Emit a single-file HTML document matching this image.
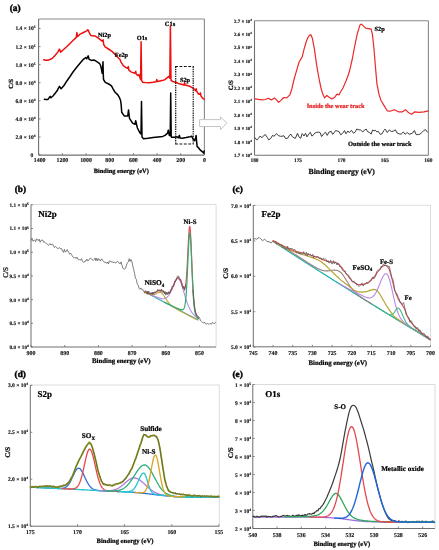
<!DOCTYPE html>
<html><head><meta charset="utf-8"><title>XPS spectra</title>
<style>
html,body{margin:0;padding:0;background:#fff;width:439px;height:550px;overflow:hidden}
svg{display:block}
text{font-family:"Liberation Serif","Times New Roman",serif;text-rendering:geometricPrecision}
</style></head><body>
<svg width="439" height="550" viewBox="0 0 439 550">
<rect width="439" height="550" fill="#fff"/>
<text x="9.7" y="11.3" font-size="9.4" font-weight="bold" text-anchor="start" fill="#000" stroke="#000" stroke-width="0.45">(a)</text>
<line x1="38.6" y1="19" x2="204.4" y2="19" stroke="#8a8a8a" stroke-width="1.1"/>
<line x1="204.4" y1="19" x2="204.4" y2="155.1" stroke="#8a8a8a" stroke-width="1.1"/>
<line x1="38.6" y1="19" x2="38.6" y2="155.1" stroke="#707070" stroke-width="1.1"/>
<line x1="38.6" y1="155.1" x2="204.4" y2="155.1" stroke="#707070" stroke-width="1.1"/>
<line x1="38.6" y1="155.1" x2="40.6" y2="155.1" stroke="#6e6e6e" stroke-width="0.8"/>
<text x="33.3" y="157.1" font-size="5.5" font-weight="bold" text-anchor="end" fill="#1a1a1a" stroke="#1a1a1a" stroke-width="0.16">0</text>
<line x1="38.6" y1="137" x2="40.6" y2="137" stroke="#6e6e6e" stroke-width="0.8"/>
<text x="35.5" y="139" font-size="5.5" font-weight="bold" text-anchor="end" fill="#1a1a1a" stroke="#1a1a1a" stroke-width="0.16">2.0 × 10<tspan font-size="3.6" dy="-2">4</tspan></text>
<line x1="38.6" y1="118.9" x2="40.6" y2="118.9" stroke="#6e6e6e" stroke-width="0.8"/>
<text x="35.5" y="120.9" font-size="5.5" font-weight="bold" text-anchor="end" fill="#1a1a1a" stroke="#1a1a1a" stroke-width="0.16">4.0 × 10<tspan font-size="3.6" dy="-2">4</tspan></text>
<line x1="38.6" y1="100.8" x2="40.6" y2="100.8" stroke="#6e6e6e" stroke-width="0.8"/>
<text x="35.5" y="102.8" font-size="5.5" font-weight="bold" text-anchor="end" fill="#1a1a1a" stroke="#1a1a1a" stroke-width="0.16">6.0 × 10<tspan font-size="3.6" dy="-2">4</tspan></text>
<line x1="38.6" y1="82.7" x2="40.6" y2="82.7" stroke="#6e6e6e" stroke-width="0.8"/>
<text x="35.5" y="84.7" font-size="5.5" font-weight="bold" text-anchor="end" fill="#1a1a1a" stroke="#1a1a1a" stroke-width="0.16">8.0 × 10<tspan font-size="3.6" dy="-2">4</tspan></text>
<line x1="38.6" y1="64.6" x2="40.6" y2="64.6" stroke="#6e6e6e" stroke-width="0.8"/>
<text x="35.5" y="66.6" font-size="5.5" font-weight="bold" text-anchor="end" fill="#1a1a1a" stroke="#1a1a1a" stroke-width="0.16">1.0 × 10<tspan font-size="3.6" dy="-2">5</tspan></text>
<line x1="38.6" y1="46.6" x2="40.6" y2="46.6" stroke="#6e6e6e" stroke-width="0.8"/>
<text x="35.5" y="48.5" font-size="5.5" font-weight="bold" text-anchor="end" fill="#1a1a1a" stroke="#1a1a1a" stroke-width="0.16">1.2 × 10<tspan font-size="3.6" dy="-2">5</tspan></text>
<line x1="38.6" y1="28.5" x2="40.6" y2="28.5" stroke="#6e6e6e" stroke-width="0.8"/>
<text x="35.5" y="30.4" font-size="5.5" font-weight="bold" text-anchor="end" fill="#1a1a1a" stroke="#1a1a1a" stroke-width="0.16">1.4 × 10<tspan font-size="3.6" dy="-2">5</tspan></text>
<line x1="204.4" y1="155.1" x2="204.4" y2="153.1" stroke="#6e6e6e" stroke-width="0.8"/>
<text x="204.4" y="162.2" font-size="5.85" font-weight="bold" text-anchor="middle" fill="#1a1a1a" stroke="#1a1a1a" stroke-width="0.16">0</text>
<line x1="180.7" y1="155.1" x2="180.7" y2="153.1" stroke="#6e6e6e" stroke-width="0.8"/>
<text x="180.7" y="162.2" font-size="5.85" font-weight="bold" text-anchor="middle" fill="#1a1a1a" stroke="#1a1a1a" stroke-width="0.16">200</text>
<line x1="157.1" y1="155.1" x2="157.1" y2="153.1" stroke="#6e6e6e" stroke-width="0.8"/>
<text x="157.1" y="162.2" font-size="5.85" font-weight="bold" text-anchor="middle" fill="#1a1a1a" stroke="#1a1a1a" stroke-width="0.16">400</text>
<line x1="133.4" y1="155.1" x2="133.4" y2="153.1" stroke="#6e6e6e" stroke-width="0.8"/>
<text x="133.4" y="162.2" font-size="5.85" font-weight="bold" text-anchor="middle" fill="#1a1a1a" stroke="#1a1a1a" stroke-width="0.16">600</text>
<line x1="109.7" y1="155.1" x2="109.7" y2="153.1" stroke="#6e6e6e" stroke-width="0.8"/>
<text x="109.7" y="162.2" font-size="5.85" font-weight="bold" text-anchor="middle" fill="#1a1a1a" stroke="#1a1a1a" stroke-width="0.16">800</text>
<line x1="86" y1="155.1" x2="86" y2="153.1" stroke="#6e6e6e" stroke-width="0.8"/>
<text x="86" y="162.2" font-size="5.85" font-weight="bold" text-anchor="middle" fill="#1a1a1a" stroke="#1a1a1a" stroke-width="0.16">1000</text>
<line x1="62.4" y1="155.1" x2="62.4" y2="153.1" stroke="#6e6e6e" stroke-width="0.8"/>
<text x="62.4" y="162.2" font-size="5.85" font-weight="bold" text-anchor="middle" fill="#1a1a1a" stroke="#1a1a1a" stroke-width="0.16">1200</text>
<line x1="38.7" y1="155.1" x2="38.7" y2="153.1" stroke="#6e6e6e" stroke-width="0.8"/>
<text x="39.7" y="162.2" font-size="5.85" font-weight="bold" text-anchor="middle" fill="#1a1a1a" stroke="#1a1a1a" stroke-width="0.16">1400</text>
<text x="121.3" y="173.3" font-size="6.4" font-weight="bold" text-anchor="middle" fill="#000" stroke="#000" stroke-width="0.22">Binding energy (eV)</text>
<text x="0" y="0" font-size="6.3" font-weight="bold" text-anchor="middle" fill="#000" stroke="#000" stroke-width="0.22" transform="translate(12.6 83.8) rotate(-90)">C/S</text>
<polyline points="44.3,99.2 46,99.6 47.8,99.6 49.5,97.2 50.2,96.4 50.9,97.8 53,96 55,93.5 57.1,90.8 58.6,87.8 59.5,86.3 61.1,88.8 64,85.5 66.7,81.2 70,76.5 73,72 76.3,67.8 80,63.3 83.4,59.3 85.7,57.6 86.8,58.7 88.2,55.9 89.1,59.3 91.4,60.4 93.7,59.9 95.9,61 98.2,62.7 99.6,63.5 100.7,65.8 101.6,69.8 102.1,73.2 102.6,68 103,61.8 103.2,72.1 103.5,79.5 105.3,82.3 108.7,84 111.5,85.8 113.2,89.2 114.9,92 117.8,94.9 119.5,97.7 120.6,100.6 121.2,105 121.7,112.3 124.2,115.9 127.8,115.9 128.5,109.9 129.5,118.3 132.6,123.1 135,124.3 135.7,120.7 137.4,128 139.9,132.8 141,134 141.5,101.4 142,137 143.5,138.8 148,138.3 153.1,137.6 158,137 162.8,136.4 165,135.4 167.4,133.4 168.3,130.1 169.3,135.4 170.2,135.6 170.7,93 171.2,136.5 171.7,137.3 174.6,137.3 177,136.8 178.4,137.8 179.4,135.4 180,138 182.2,138.2 186.1,137.6 189.9,136.8 191.8,136.3 192.8,138.7 194.7,140.6 195.6,138 196.1,135.4 196.6,141.6 197.1,146.4 198.5,147.8 200.4,150.2 202.8,152.1 203.8,153.1 204.2,151" fill="none" stroke="#000" stroke-width="1.5" stroke-linejoin="round" stroke-linecap="round"/>
<polyline points="43.7,59.8 45.5,60.3 47.6,60.2 50,59.5 52.4,58.3 55,55.5 58.1,51.6 59.4,49.1 60.6,52.1 63,50 66.7,46.8 70,43.5 73,40.5 76.3,37.4 76.9,32.6 77.4,36.6 80,34.2 83.4,32.5 86.8,30.8 87.7,29.7 88.5,30.8 89.7,33.7 90.8,35.4 94.8,35.9 97.7,37.7 99.9,39.4 102.2,41.1 103.1,39.9 103.7,44.5 105.1,46.8 108.5,49 111.9,51.3 114.2,53.6 116.4,55.9 118.7,58.2 119.9,59.3 121,62.1 123.3,65.6 125.6,67.3 127.5,68.3 128.3,66.6 128.9,70.2 131.4,72.1 134.9,73.2 135.7,71.3 136.3,74.4 138.3,75.5 139,74.5 140,77.8 140.6,79.5 141.1,41.7 141.6,80.6 142.8,82.3 145,82.5 149.4,82.7 153,82.3 156.2,81.7 156.8,79.5 157.4,81.6 160,81 163.1,80.3 165,79.6 167.9,77.2 168.8,76.3 169.8,78.2 170.4,25.9 171,80.4 172.7,81.5 175.5,82.2 178.4,83.4 182.2,84.4 184.1,84.9 184.6,82.5 185.1,85.1 188,85.8 190.8,86.8 193.7,88.7 195.6,90.6 196.1,88.7 196.6,91.1 198.5,94 199.9,94.4 200.4,93 200.9,95.9 202.3,97.8 204.2,99.2" fill="none" stroke="#ee1010" stroke-width="1.5" stroke-linejoin="round" stroke-linecap="round"/>
<line x1="175.1" y1="66.5" x2="193.8" y2="66.5" stroke="#111" stroke-width="1.2" stroke-dasharray="2.8 1.6"/>
<line x1="175.1" y1="144" x2="193.8" y2="144" stroke="#111" stroke-width="1.2" stroke-dasharray="2.8 1.6"/>
<line x1="175.7" y1="66.5" x2="175.7" y2="144" stroke="#111" stroke-width="1.2" stroke-dasharray="1.4 0.9"/>
<line x1="193.2" y1="66.5" x2="193.2" y2="144" stroke="#111" stroke-width="1.2" stroke-dasharray="1.4 0.9"/>
<text x="98" y="37.2" font-size="6.3" font-weight="bold" text-anchor="start" fill="#000" stroke="#000" stroke-width="0.22">Ni2p</text>
<text x="114.8" y="57" font-size="6.3" font-weight="bold" text-anchor="start" fill="#000" stroke="#000" stroke-width="0.22">Fe2p</text>
<text x="142" y="40.1" font-size="6.3" font-weight="bold" text-anchor="middle" fill="#000" stroke="#000" stroke-width="0.22">O1s</text>
<text x="170" y="25.8" font-size="6.5" font-weight="bold" text-anchor="middle" fill="#000" stroke="#000" stroke-width="0.22">C1s</text>
<text x="185" y="81.9" font-size="6.3" font-weight="bold" text-anchor="middle" fill="#000" stroke="#000" stroke-width="0.22">S2p</text>
<path d="M199.6,119.6 L220.5,119.6 L220.5,116.8 L226.9,123.2 L220.5,129.6 L220.5,126.5 L199.6,126.5 Z" fill="#fff" stroke="#bdbdbd" stroke-width="0.9"/>
<line x1="254.5" y1="20.8" x2="428.4" y2="20.8" stroke="#8a8a8a" stroke-width="1.1"/>
<line x1="428.4" y1="20.8" x2="428.4" y2="155.2" stroke="#8a8a8a" stroke-width="1.1"/>
<line x1="254.5" y1="20.8" x2="254.5" y2="155.2" stroke="#707070" stroke-width="1.1"/>
<line x1="254.5" y1="155.2" x2="428.4" y2="155.2" stroke="#707070" stroke-width="1.1"/>
<line x1="254.5" y1="155.2" x2="254.5" y2="155.2" stroke="#6e6e6e" stroke-width="0.8"/>
<text x="251.9" y="157" font-size="4.9" font-weight="bold" text-anchor="end" fill="#1a1a1a" stroke="#1a1a1a" stroke-width="0.16">1.7 × 10<tspan font-size="3.2" dy="-1.8">4</tspan></text>
<line x1="254.5" y1="141.8" x2="254.5" y2="141.8" stroke="#6e6e6e" stroke-width="0.8"/>
<text x="251.9" y="143.5" font-size="4.9" font-weight="bold" text-anchor="end" fill="#1a1a1a" stroke="#1a1a1a" stroke-width="0.16">1.8 × 10<tspan font-size="3.2" dy="-1.8">4</tspan></text>
<line x1="254.5" y1="128.3" x2="254.5" y2="128.3" stroke="#6e6e6e" stroke-width="0.8"/>
<text x="251.9" y="130.1" font-size="4.9" font-weight="bold" text-anchor="end" fill="#1a1a1a" stroke="#1a1a1a" stroke-width="0.16">1.9 × 10<tspan font-size="3.2" dy="-1.8">4</tspan></text>
<line x1="254.5" y1="114.9" x2="254.5" y2="114.9" stroke="#6e6e6e" stroke-width="0.8"/>
<text x="251.9" y="116.6" font-size="4.9" font-weight="bold" text-anchor="end" fill="#1a1a1a" stroke="#1a1a1a" stroke-width="0.16">2.0 × 10<tspan font-size="3.2" dy="-1.8">4</tspan></text>
<line x1="254.5" y1="101.4" x2="254.5" y2="101.4" stroke="#6e6e6e" stroke-width="0.8"/>
<text x="251.9" y="103.2" font-size="4.9" font-weight="bold" text-anchor="end" fill="#1a1a1a" stroke="#1a1a1a" stroke-width="0.16">2.1 × 10<tspan font-size="3.2" dy="-1.8">4</tspan></text>
<line x1="254.5" y1="88" x2="254.5" y2="88" stroke="#6e6e6e" stroke-width="0.8"/>
<text x="251.9" y="89.8" font-size="4.9" font-weight="bold" text-anchor="end" fill="#1a1a1a" stroke="#1a1a1a" stroke-width="0.16">2.2 × 10<tspan font-size="3.2" dy="-1.8">4</tspan></text>
<line x1="254.5" y1="74.6" x2="254.5" y2="74.6" stroke="#6e6e6e" stroke-width="0.8"/>
<text x="251.9" y="76.3" font-size="4.9" font-weight="bold" text-anchor="end" fill="#1a1a1a" stroke="#1a1a1a" stroke-width="0.16">2.3 × 10<tspan font-size="3.2" dy="-1.8">4</tspan></text>
<line x1="254.5" y1="61.1" x2="254.5" y2="61.1" stroke="#6e6e6e" stroke-width="0.8"/>
<text x="251.9" y="62.9" font-size="4.9" font-weight="bold" text-anchor="end" fill="#1a1a1a" stroke="#1a1a1a" stroke-width="0.16">2.4 × 10<tspan font-size="3.2" dy="-1.8">4</tspan></text>
<line x1="254.5" y1="47.7" x2="254.5" y2="47.7" stroke="#6e6e6e" stroke-width="0.8"/>
<text x="251.9" y="49.4" font-size="4.9" font-weight="bold" text-anchor="end" fill="#1a1a1a" stroke="#1a1a1a" stroke-width="0.16">2.5 × 10<tspan font-size="3.2" dy="-1.8">4</tspan></text>
<line x1="254.5" y1="34.2" x2="254.5" y2="34.2" stroke="#6e6e6e" stroke-width="0.8"/>
<text x="251.9" y="36" font-size="4.9" font-weight="bold" text-anchor="end" fill="#1a1a1a" stroke="#1a1a1a" stroke-width="0.16">2.6 × 10<tspan font-size="3.2" dy="-1.8">4</tspan></text>
<line x1="254.5" y1="20.8" x2="254.5" y2="20.8" stroke="#6e6e6e" stroke-width="0.8"/>
<text x="251.9" y="22.6" font-size="4.9" font-weight="bold" text-anchor="end" fill="#1a1a1a" stroke="#1a1a1a" stroke-width="0.16">2.7 × 10<tspan font-size="3.2" dy="-1.8">4</tspan></text>
<line x1="254.5" y1="155.2" x2="254.5" y2="155.2" stroke="#6e6e6e" stroke-width="0.8"/>
<text x="254.5" y="161.6" font-size="5.4" font-weight="bold" text-anchor="middle" fill="#1a1a1a" stroke="#1a1a1a" stroke-width="0.16">180</text>
<line x1="298" y1="155.2" x2="298" y2="155.2" stroke="#6e6e6e" stroke-width="0.8"/>
<text x="298" y="161.6" font-size="5.4" font-weight="bold" text-anchor="middle" fill="#1a1a1a" stroke="#1a1a1a" stroke-width="0.16">175</text>
<line x1="341.5" y1="155.2" x2="341.5" y2="155.2" stroke="#6e6e6e" stroke-width="0.8"/>
<text x="341.5" y="161.6" font-size="5.4" font-weight="bold" text-anchor="middle" fill="#1a1a1a" stroke="#1a1a1a" stroke-width="0.16">170</text>
<line x1="384.9" y1="155.2" x2="384.9" y2="155.2" stroke="#6e6e6e" stroke-width="0.8"/>
<text x="384.9" y="161.6" font-size="5.4" font-weight="bold" text-anchor="middle" fill="#1a1a1a" stroke="#1a1a1a" stroke-width="0.16">165</text>
<line x1="428.4" y1="155.2" x2="428.4" y2="155.2" stroke="#6e6e6e" stroke-width="0.8"/>
<text x="428.4" y="161.6" font-size="5.4" font-weight="bold" text-anchor="middle" fill="#1a1a1a" stroke="#1a1a1a" stroke-width="0.16">160</text>
<text x="341.7" y="173.6" font-size="7.7" font-weight="bold" text-anchor="middle" fill="#000" stroke="#000" stroke-width="0.22">Binding energy (eV)</text>
<text x="0" y="0" font-size="6.5" font-weight="bold" text-anchor="middle" fill="#000" stroke="#000" stroke-width="0.22" transform="translate(232.6 85.1) rotate(-90)">C/S</text>
<polyline points="255,137.7 256.8,140.1 258.4,138.4 260.2,136 261.9,137.8 263.9,135.4 265.4,134.6 267.4,137.6 268.7,139.9 270.8,138.4 272.7,135.2 273.9,136.4 275.1,135 276.6,133.6 278.2,135.5 280.3,136.3 282.1,136.2 284,135.8 285.5,138.5 287.7,138.2 289.6,135.1 291,134.2 292.3,136.7 293.9,137.7 295.4,138.3 297.5,133.3 298.9,136.8 300.6,138.3 302.2,133.6 304,136 305.5,133.3 307,136.9 309,133.6 310.4,132.3 311.7,135.9 313,135.5 314.7,133.2 316.6,132.4 318.5,132.1 320.1,132.6 321.6,136.6 323.6,133.8 325.6,132.2 327.2,135.4 329.1,132 331.3,131.4 332.7,134.4 334.3,132.5 335.5,130.6 337.3,131 339.1,131.7 340.8,134.8 342.5,133.4 344.5,130.6 345.9,133.8 347.9,131 349.3,132.6 351.4,130.3 353.6,133.3 355.4,131.8 356.7,129.1 358.8,129.7 360.7,130.1 362.8,132 364.3,130.2 366.2,129.1 367.6,131.6 369.7,132.5 371.1,134.2 372.6,129.9 374,131 375.3,130.2 376.8,131.9 378.2,131.3 380.3,134.4 382.1,133.7 383.9,130.4 385.1,129.1 387.3,132.5 389.4,129.9 391.3,131.5 393.2,131.2 395.4,129.8 397.1,133 399.2,133.9 401.1,134.2 403.3,132 405.1,134.3 407.2,132.5 409.2,134.3 411,133.7 412.6,133.1 414.4,130.5 416.2,134.7 418.3,134.5 419.9,134.2 421.7,132.7 423.7,130.5 425.6,129.7 427.4,132.1" fill="none" stroke="#3a3a3a" stroke-width="1.0" stroke-linejoin="round" stroke-linecap="round"/>
<polyline points="255,98.9 258.1,99.3 262.2,99.9 265.3,99.5 268.4,98.3 271.4,99.9 274.5,97.9 276.5,99.9 278.6,102.4 280.7,100.6 283.7,97.5 286.8,97.9 289.9,94.8 291.9,88.7 294,79.5 297,69.2 299.1,62 302.2,56.9 304.2,48.7 306.3,41.5 308.2,37 309.4,35.4 311,34.8 312.4,38.4 314.5,49.7 316.5,64.1 318,73 319.6,81.5 321,88 322.7,93.8 324.7,97.9 326.8,95.4 328.8,96.9 331.9,98.9 335,96.9 337,94.2 339.1,94.8 340.5,92 343.1,87.7 346.2,80.5 349.2,72.3 352.3,59 355.4,42.6 357.4,33.3 359.9,25.1 361.5,24.1 363.6,26.2 365.6,28.2 368.7,28.6 371.2,29.2 372.4,34.4 373.8,46.7 375.3,65.1 376.9,83.6 379,94.4 381,100.5 384.1,105.6 387.2,110.8 390.2,111.2 394.3,109.7 398.4,111.8 402.5,111.8 405.6,109.7 408.7,112.8 411.8,114.2 414.8,111.8 418.9,112.4 424,111.8 428.2,110.8" fill="none" stroke="#ec2828" stroke-width="1.2" stroke-linejoin="round" stroke-linecap="round"/>
<text x="379.6" y="31.4" font-size="6.3" font-weight="bold" text-anchor="middle" fill="#000" stroke="#000" stroke-width="0.22">S2p</text>
<text x="335.6" y="107.9" font-size="6.4" font-weight="bold" text-anchor="middle" fill="#e52020" stroke="#e52020" stroke-width="0.22">Inside the wear track</text>
<text x="379.8" y="146.2" font-size="6.5" font-weight="bold" text-anchor="middle" fill="#000" stroke="#000" stroke-width="0.22">Outside the wear track</text>
<text x="14.8" y="192.3" font-size="9.2" font-weight="bold" text-anchor="start" fill="#000" stroke="#000" stroke-width="0.45">(b)</text>
<line x1="31" y1="204.5" x2="216.1" y2="204.5" stroke="#dcdcdc" stroke-width="1.0"/>
<line x1="216.1" y1="204.5" x2="216.1" y2="347" stroke="#dcdcdc" stroke-width="1.0"/>
<line x1="31" y1="204.5" x2="31" y2="347" stroke="#6e6e6e" stroke-width="1.0"/>
<line x1="31" y1="347" x2="216.1" y2="347" stroke="#6e6e6e" stroke-width="1.0"/>
<line x1="31" y1="347" x2="33" y2="347" stroke="#6e6e6e" stroke-width="0.8"/>
<text x="28.8" y="348.9" font-size="5.3" font-weight="bold" text-anchor="end" fill="#1a1a1a" stroke="#1a1a1a" stroke-width="0.16">8.0 × 10<tspan font-size="3.5" dy="-1.9">4</tspan></text>
<line x1="31" y1="323.3" x2="33" y2="323.3" stroke="#6e6e6e" stroke-width="0.8"/>
<text x="28.8" y="325.2" font-size="5.3" font-weight="bold" text-anchor="end" fill="#1a1a1a" stroke="#1a1a1a" stroke-width="0.16">8.5 × 10<tspan font-size="3.5" dy="-1.9">4</tspan></text>
<line x1="31" y1="299.6" x2="33" y2="299.6" stroke="#6e6e6e" stroke-width="0.8"/>
<text x="28.8" y="301.5" font-size="5.3" font-weight="bold" text-anchor="end" fill="#1a1a1a" stroke="#1a1a1a" stroke-width="0.16">9.0 × 10<tspan font-size="3.5" dy="-1.9">4</tspan></text>
<line x1="31" y1="275.9" x2="33" y2="275.9" stroke="#6e6e6e" stroke-width="0.8"/>
<text x="28.8" y="277.8" font-size="5.3" font-weight="bold" text-anchor="end" fill="#1a1a1a" stroke="#1a1a1a" stroke-width="0.16">9.5 × 10<tspan font-size="3.5" dy="-1.9">4</tspan></text>
<line x1="31" y1="252.2" x2="33" y2="252.2" stroke="#6e6e6e" stroke-width="0.8"/>
<text x="28.8" y="254.1" font-size="5.3" font-weight="bold" text-anchor="end" fill="#1a1a1a" stroke="#1a1a1a" stroke-width="0.16">1.0 × 10<tspan font-size="3.5" dy="-1.9">5</tspan></text>
<line x1="31" y1="228.5" x2="33" y2="228.5" stroke="#6e6e6e" stroke-width="0.8"/>
<text x="28.8" y="230.4" font-size="5.3" font-weight="bold" text-anchor="end" fill="#1a1a1a" stroke="#1a1a1a" stroke-width="0.16">1.1 × 10<tspan font-size="3.5" dy="-1.9">5</tspan></text>
<line x1="31" y1="204.8" x2="33" y2="204.8" stroke="#6e6e6e" stroke-width="0.8"/>
<text x="28.8" y="206.7" font-size="5.3" font-weight="bold" text-anchor="end" fill="#1a1a1a" stroke="#1a1a1a" stroke-width="0.16">1.1 × 10<tspan font-size="3.5" dy="-1.9">5</tspan></text>
<line x1="31" y1="347" x2="31" y2="345" stroke="#6e6e6e" stroke-width="0.8"/>
<text x="31" y="355.2" font-size="5.85" font-weight="bold" text-anchor="middle" fill="#1a1a1a" stroke="#1a1a1a" stroke-width="0.16">900</text>
<line x1="64.7" y1="347" x2="64.7" y2="345" stroke="#6e6e6e" stroke-width="0.8"/>
<text x="64.7" y="355.2" font-size="5.85" font-weight="bold" text-anchor="middle" fill="#1a1a1a" stroke="#1a1a1a" stroke-width="0.16">890</text>
<line x1="98.4" y1="347" x2="98.4" y2="345" stroke="#6e6e6e" stroke-width="0.8"/>
<text x="98.4" y="355.2" font-size="5.85" font-weight="bold" text-anchor="middle" fill="#1a1a1a" stroke="#1a1a1a" stroke-width="0.16">880</text>
<line x1="132.1" y1="347" x2="132.1" y2="345" stroke="#6e6e6e" stroke-width="0.8"/>
<text x="132.1" y="355.2" font-size="5.85" font-weight="bold" text-anchor="middle" fill="#1a1a1a" stroke="#1a1a1a" stroke-width="0.16">870</text>
<line x1="165.8" y1="347" x2="165.8" y2="345" stroke="#6e6e6e" stroke-width="0.8"/>
<text x="165.8" y="355.2" font-size="5.85" font-weight="bold" text-anchor="middle" fill="#1a1a1a" stroke="#1a1a1a" stroke-width="0.16">860</text>
<line x1="199.5" y1="347" x2="199.5" y2="345" stroke="#6e6e6e" stroke-width="0.8"/>
<text x="199.5" y="355.2" font-size="5.85" font-weight="bold" text-anchor="middle" fill="#1a1a1a" stroke="#1a1a1a" stroke-width="0.16">850</text>
<text x="121.3" y="362.6" font-size="6.8" font-weight="bold" text-anchor="middle" fill="#000" stroke="#000" stroke-width="0.22">Binding energy (eV)</text>
<text x="0" y="0" font-size="7.2" text-anchor="middle" fill="#000" stroke="#000" stroke-width="0.22" transform="translate(8.3 272.3) rotate(-90)">C/S</text>
<text x="38.3" y="216.6" font-size="9" font-weight="bold" text-anchor="start" fill="#000" stroke="#000" stroke-width="0.22">Ni2p</text>
<polyline points="31.1,240 32,238.2 32.9,241.1 33.8,240.7 34.7,239.8 35.6,241.6 36.5,238.9 37.4,239.4 38.3,240.7 39.2,239.2 40.1,242.3 41,240.3 41.9,240.2 42.8,240.1 43.7,242.4 44.6,242 45.5,242.9 46.4,243.3 47.3,244.3 48.2,245.3 49.1,244.8 50,243.5 50.9,245 51.8,244.4 52.7,244.2 53.6,246.2 54.5,247.6 55.4,246.3 56.3,247.2 57.2,248.1 58.1,248.8 59,247.6 59.9,248.1 60.8,248.7 61.7,248.7 62.6,251.5 63.5,252.4 64.4,249.3 65.3,252.2 66.2,251.3 67.1,249.6 68,251.3 68.9,252.7 69.8,254.4 70.7,253.2 71.6,254.6 72.5,256.5 73.4,256.9 74.3,258.2 75.2,257.3 76.1,258.5 77,257.2 77.9,259.3 78.8,259.9 79.7,259.6 80.6,260.2 81.5,258.7 82.4,261.4 83.3,262 84.2,262.3 85.1,260.7 86,261.2 86.9,259.1 87.8,260.8 88.7,260.5 89.6,258.8 90.5,257.9 91.4,259.2 92.3,259.7 93.2,260.5 94.1,259.5 95,257.9 95.9,260.7 96.8,258.1 97.7,260.8 98.6,258.7 99.5,259.4 100.4,261.1 101.3,259.1 102.2,259.3 103.1,260.9 104,261.9 104.9,262.6 105.8,262.2 106.7,263.4 107.6,262 108.5,263.9 109.4,260.8 110.3,261.2 111.2,262.2 112.1,261.3 113,262.8 113.9,262.4 114.8,262 115.7,263.2 116.6,262.3 117.5,261.4 118.4,261.8 119.3,263.5 120.2,263.9 121.1,261.9 122,265.3 122.9,268.4 123.8,268.9 124.7,269.3 125.6,268.1 126.5,265 127.4,262.7 128.3,262 129.2,258.7 130.1,261.5 131,259.5 131.9,261.4 132.8,265.9 133.7,269.5 134.6,273.7 135.5,278.2 136.4,279.5 137.3,284.2 138.2,285.1 139.1,288.4 140,289.4 140.9,287.9 141.8,289.6 142.7,289.3 143.6,291.3 144.5,292.7 144.6,292.9" fill="none" stroke="#555" stroke-width="0.75" stroke-linejoin="round" stroke-linecap="round"/>
<polyline points="144.6,291.9 145.1,292.2 145.6,292.4 146.1,292.7 146.6,292.9 147.1,293.2 147.6,293.5 148.1,293.7 148.6,294 149.1,294.3 149.6,294.5 150.1,294.8 150.6,295 151.1,295.3 151.6,295.6 152.1,295.8 152.6,296.1 153.1,296.4 153.6,296.6 154.1,296.9 154.6,297.1 155.1,297.4 155.6,297.7 156.1,297.9 156.6,298.2 157.1,298.5 157.6,298.7 158.1,299 158.6,299.2 159.1,299.5 159.6,299.8 160.1,300 160.6,300.3 161.1,300.6 161.6,300.8 162.1,301.1 162.6,301.3 163.1,301.6 163.6,301.9 164.1,302.1 164.6,302.4 165.1,302.7 165.6,302.9 166.1,303.2 166.6,303.4 167.1,303.7 167.6,304 168.1,304.2 168.6,304.5 169.1,304.8 169.6,305 170.1,305.3 170.6,305.5 171.1,305.8 171.6,306.1 172.1,306.3 172.6,306.6 173.1,306.9 173.6,307.1 174.1,307.4 174.6,307.6 175.1,307.9 175.6,308.2 176.1,308.4 176.6,308.7 177.1,309 177.6,309.2 178.1,309.5 178.6,309.8 179.1,310 179.6,310.3 180.1,310.5 180.6,310.8 181.1,311.1 181.6,311.3 182.1,311.6 182.6,311.8 183.1,312.1 183.6,312.4 184.1,312.6 184.6,312.9 185.1,313.2 185.6,313.4 186.1,313.7 186.6,313.9 187.1,314.2 187.6,314.5 188.1,314.7 188.6,315 189.1,315.3 189.6,315.5 190.1,315.8 190.6,316 191.1,316.3 191.6,316.6 192.1,316.8 192.6,317.1 193.1,317.4 193.6,317.6 194.1,317.9 194.6,318.1 195.1,318.4 195.6,318.7 196.1,318.9 196.6,319.2 197.1,319.5 197.6,319.7 198.1,320" fill="none" stroke="#2fa6b8" stroke-width="1.1" stroke-linejoin="round" stroke-linecap="round"/>
<polyline points="144.6,292.3 145.1,292.5 145.6,292.8 146.1,293 146.6,293.3 147.1,293.5 147.6,293.8 148.1,294 148.6,294.2 149.1,294.4 149.6,294.5 150.1,294.7 150.6,294.8 151.1,294.9 151.6,295 152.1,295 152.6,295 153.1,294.9 153.6,294.8 154.1,294.6 154.6,294.4 155.1,294.2 155.6,294 156.1,293.7 156.6,293.4 157.1,293.1 157.6,292.9 158.1,292.7 158.6,292.5 159.1,292.4 159.6,292.3 160.1,292.4 160.6,292.5 161.1,292.8 161.6,293.1 162.1,293.5 162.6,294 163.1,294.6 163.6,295.3 164.1,296 164.6,296.8 165.1,297.6 165.6,298.4 166.1,299.2 166.6,299.9 167.1,300.7 167.6,301.4 168.1,302.1 168.6,302.8 169.1,303.4 169.6,304 170.1,304.5 170.6,305 171.1,305.5 171.6,305.9 172.1,306.3 172.6,306.7 173.1,307 173.6,307.3 174.1,307.6 174.6,307.9 175.1,308.2 175.6,308.5 176.1,308.8 176.6,309.1 177.1,309.3 177.6,309.6 178.1,309.9 178.6,310.1 179.1,310.4 179.6,310.7 180.1,310.9 180.6,311.2 181.1,311.5 181.6,311.7 182.1,312 182.6,312.2 183.1,312.5 183.6,312.8 184.1,313 184.6,313.3 185.1,313.6 185.6,313.8 186.1,314.1 186.6,314.3 187.1,314.6 187.6,314.9 188.1,315.1 188.6,315.4 189.1,315.7 189.6,315.9 190.1,316.2 190.6,316.4 191.1,316.7 191.6,317 192.1,317.2 192.6,317.5 193.1,317.8 193.6,318 194.1,318.3 194.6,318.5 195.1,318.8 195.6,319.1 196.1,319.3 196.6,319.6" fill="none" stroke="#b8a630" stroke-width="1.1" stroke-linejoin="round" stroke-linecap="round"/>
<polyline points="148.6,293.3 149.1,293.6 149.6,293.8 150.1,294.1 150.6,294.3 151.1,294.5 151.6,294.8 152.1,295 152.6,295.2 153.1,295.5 153.6,295.7 154.1,295.9 154.6,296.1 155.1,296.4 155.6,296.6 156.1,296.8 156.6,297 157.1,297.2 157.6,297.4 158.1,297.6 158.6,297.8 159.1,298 159.6,298.1 160.1,298.3 160.6,298.4 161.1,298.5 161.6,298.6 162.1,298.7 162.6,298.8 163.1,298.8 163.6,298.7 164.1,298.7 164.6,298.6 165.1,298.4 165.6,298.2 166.1,298 166.6,297.6 167.1,297.2 167.6,296.7 168.1,296.2 168.6,295.5 169.1,294.8 169.6,294 170.1,293.2 170.6,292.2 171.1,291.2 171.6,290.1 172.1,289 172.6,287.8 173.1,286.6 173.6,285.4 174.1,284.2 174.6,283.1 175.1,282 175.6,281 176.1,280.2 176.6,279.4 177.1,278.9 177.6,278.6 178.1,278.6 178.6,278.8 179.1,279.2 179.6,279.9 180.1,280.8 180.6,281.9 181.1,283.2 181.6,284.7 182.1,286.2 182.6,287.8 183.1,289.5 183.6,291.3 184.1,293 184.6,294.7 185.1,296.4 185.6,298 186.1,299.6 186.6,301.1 187.1,302.6 187.6,303.9 188.1,305.2 188.6,306.4 189.1,307.5 189.6,308.6 190.1,309.6 190.6,310.5 191.1,311.3 191.6,312.1 192.1,312.8 192.6,313.4 193.1,314 193.6,314.6 194.1,315.1 194.6,315.6 195.1,316.1 195.6,316.5 196.1,317 196.6,317.4 197.1,317.7 197.6,318.1 198.1,318.5" fill="none" stroke="#b48be0" stroke-width="1.1" stroke-linejoin="round" stroke-linecap="round"/>
<polyline points="144.6,291.3 144.9,291.5 145.2,291.6 145.5,291.7 145.8,291.9 146.1,292 146.4,292.2 146.7,292.3 147,292.4 147.3,292.5 147.6,292.7 147.9,292.8 148.2,292.9 148.5,293 148.8,293.1 149.1,293.2 149.4,293.3 149.7,293.4 150,293.5 150.3,293.5 150.6,293.6 150.9,293.6 151.2,293.7 151.5,293.7 151.8,293.7 152.1,293.7 152.4,293.6 152.7,293.6 153,293.5 153.3,293.5 153.6,293.4 153.9,293.2 154.2,293.1 154.5,293 154.8,292.8 155.1,292.7 155.4,292.5 155.7,292.3 156,292.1 156.3,291.9 156.6,291.7 156.9,291.5 157.2,291.3 157.5,291.1 157.8,290.9 158.1,290.8 158.4,290.6 158.7,290.5 159,290.3 159.3,290.2 159.6,290.2 159.9,290.1 160.2,290.1 160.5,290.1 160.8,290.1 161.1,290.2 161.4,290.3 161.7,290.4 162,290.5 162.3,290.7 162.6,290.9 162.9,291.1 163.2,291.3 163.5,291.5 163.8,291.7 164.1,292 164.4,292.2 164.7,292.4 165,292.7 165.3,292.9 165.6,293 165.9,293.2 166.2,293.3 166.5,293.5 166.8,293.5 167.1,293.6 167.4,293.6 167.7,293.5 168,293.5 168.3,293.4 168.6,293.2 168.9,293 169.2,292.7 169.5,292.4 169.8,292.1 170.1,291.7 170.4,291.3 170.7,290.8 171,290.3 171.3,289.8 171.6,289.2 171.9,288.6 172.2,288 172.5,287.3 172.8,286.6 173.1,285.9 173.4,285.3 173.7,284.6 174,283.9 174.3,283.2 174.6,282.5 174.9,281.8 175.2,281.2 175.5,280.6 175.8,280 176.1,279.5 176.4,279 176.7,278.6 177,278.3 177.3,278 177.6,277.8 177.9,277.7 178.2,277.7 178.5,277.8 178.8,277.9 179.1,278.2 179.4,278.5 179.7,278.9 180,279.4 180.3,280 180.6,280.6 180.9,281.2 181.2,282 181.5,282.7 181.8,283.5 182.1,284.3 182.4,285.1 182.7,285.9 183,286.6 183.3,287.3 183.6,287.9 183.9,288.3 184.2,288.6 184.5,288.6 184.8,288.3 185.1,287.6 185.4,286.4 185.7,284.6 186,282.2 186.3,279.1 186.6,275.3 186.9,270.7 187.2,265.5 187.5,259.8 187.8,253.7 188.1,247.4 188.4,241.3 188.7,235.8 189,231.2 189.3,227.9 189.6,226.3 189.9,226.6 190.2,228.8 190.5,232.7 190.8,238.1 191.1,244.5 191.4,251.7 191.7,259.1 192,266.5 192.3,273.6 192.6,280.2 192.9,286.2 193.2,291.6 193.5,296.2 193.8,300.1 194.1,303.3 194.4,306 194.7,308.1 195,309.9 195.3,311.3 195.6,312.4 195.9,313.3 196.2,314 196.5,314.6 196.8,315.1 197.1,315.6 197.4,316 197.7,316.4 198,316.7 198.3,317.1" fill="none" stroke="#e0505a" stroke-width="1.2" stroke-linejoin="round" stroke-linecap="round"/>
<polyline points="164.6,302.2 164.9,302.4 165.2,302.5 165.5,302.7 165.8,302.8 166.1,303 166.4,303.1 166.7,303.3 167,303.4 167.3,303.6 167.6,303.7 167.9,303.9 168.2,304 168.5,304.2 168.8,304.3 169.1,304.5 169.4,304.6 169.7,304.8 170,304.9 170.3,305.1 170.6,305.2 170.9,305.4 171.2,305.5 171.5,305.7 171.8,305.8 172.1,306 172.4,306.1 172.7,306.2 173,306.4 173.3,306.5 173.6,306.7 173.9,306.8 174.2,307 174.5,307.1 174.8,307.2 175.1,307.4 175.4,307.5 175.7,307.6 176,307.8 176.3,307.9 176.6,308 176.9,308.2 177.2,308.3 177.5,308.4 177.8,308.5 178.1,308.6 178.4,308.8 178.7,308.9 179,309 179.3,309.1 179.6,309.2 179.9,309.3 180.2,309.4 180.5,309.4 180.8,309.5 181.1,309.6 181.4,309.6 181.7,309.7 182,309.7 182.3,309.7 182.6,309.6 182.9,309.5 183.2,309.4 183.5,309.1 183.8,308.7 184.1,308.2 184.4,307.4 184.7,306.4 185,304.9 185.3,303.1 185.6,300.7 185.9,297.7 186.2,294.1 186.5,289.7 186.8,284.7 187.1,279 187.4,272.7 187.7,266.1 188,259.2 188.3,252.5 188.6,246.2 188.9,240.7 189.2,236.4 189.5,233.7 189.8,232.9 190.1,234.1 190.4,237 190.7,241.6 191,247.4 191.3,254 191.6,261.1 191.9,268.3 192.2,275.2 192.5,281.8 192.8,287.8 193.1,293.2 193.4,297.8 193.7,301.8 194,305.1 194.3,307.8 194.6,310 194.9,311.7 195.2,313.1 195.5,314.2 195.8,315 196.1,315.7 196.4,316.3 196.7,316.8 197,317.2 197.3,317.6 197.6,317.9 197.9,318.2 198.2,318.4 198.5,318.7" fill="none" stroke="#3aa872" stroke-width="1.2" stroke-linejoin="round" stroke-linecap="round"/>
<polyline points="144.6,292.9 145.1,291.5 145.6,291.1 146.1,290.8 146.6,292.7 147.1,294.2 147.6,291.2 148.1,294 148.6,291.1 149.1,292 149.6,292.3 150.1,294.2 150.6,292.9 151.1,293.1 151.6,294.2 152.1,292.1 152.6,294.5 153.1,292 153.6,293.4 154.1,292.2 154.6,291.7 155.1,292.8 155.6,292.1 156.1,291.5 156.6,291.4 157.1,291.5 157.6,289.7 158.1,289.6 158.6,291 159.1,290.9 159.6,290.3 160.1,291.5 160.6,290.5 161.1,291.6 161.6,289.3 162.1,291.5 162.6,292.1 163.1,292.8 163.6,290.8 164.1,291.2 164.6,294 165.1,291.6 165.6,295 166.1,294.9 166.6,292 167.1,292.5 167.6,294.5 168.1,292.5 168.6,291.6 169.1,294.1 169.6,292 170.1,292.9 170.6,289.5 171.1,289.7 171.6,289.9 172.1,286.2 172.6,285.9 173.1,286.7 173.6,286.4 174.1,285.5 174.6,280.9 175.1,281.4 175.6,281.4 176.1,279.5 176.6,279.5 177.1,276.9 177.6,276.1 178.1,276.1 178.6,276 179.1,278.4 179.6,278.8 180.1,279.9 180.6,279.2 181.1,280.5 181.6,281.8 182.1,285.7 182.6,287.6 183.1,288.6 183.6,286.3 184.1,286.8 184.6,290.4 185.1,287.6 185.6,285.3" fill="none" stroke="#555" stroke-width="0.75" stroke-linejoin="round" stroke-linecap="round"/>
<polyline points="193.1,289.9 193.6,297.5 194.1,303.3 194.6,307.5 195.1,310.4 195.6,312.4 196.1,313.8 196.6,314.8 197.1,315.6 197.6,316.3 198.1,316.8 198.5,318.2 199.5,317.6 200.5,320.7 201.5,321.3 202.5,322.5 203.5,323.1 204.5,322 205.5,323.8 206.5,323.9 207.5,323.5 208.5,324 209.5,324.2 210.5,323.2 211.5,324.3 212.5,322.3 213.5,323.2 214.5,323.7 215.5,322.4" fill="none" stroke="#555" stroke-width="0.75" stroke-linejoin="round" stroke-linecap="round"/>
<text x="190" y="223.9" font-size="6.8" font-weight="bold" text-anchor="middle" fill="#000" stroke="#000" stroke-width="0.22">Ni-S</text>
<text x="144.5" y="285.2" font-size="7.4" font-weight="bold" fill="#000" stroke="#000" stroke-width="0.22">NiSO<tspan font-size="5" dy="1.8">4</tspan></text>
<text x="232.5" y="192" font-size="9.2" font-weight="bold" text-anchor="start" fill="#000" stroke="#000" stroke-width="0.45">(c)</text>
<line x1="253.3" y1="205.3" x2="430.5" y2="205.3" stroke="#dcdcdc" stroke-width="1.0"/>
<line x1="430.5" y1="205.3" x2="430.5" y2="346.8" stroke="#dcdcdc" stroke-width="1.0"/>
<line x1="253.3" y1="205.3" x2="253.3" y2="346.8" stroke="#6e6e6e" stroke-width="1.0"/>
<line x1="253.3" y1="346.8" x2="430.5" y2="346.8" stroke="#6e6e6e" stroke-width="1.0"/>
<line x1="253.3" y1="205.5" x2="255.3" y2="205.5" stroke="#6e6e6e" stroke-width="0.8"/>
<text x="251" y="207.5" font-size="5.5" font-weight="bold" text-anchor="end" fill="#1a1a1a" stroke="#1a1a1a" stroke-width="0.16">7.0 × 10<tspan font-size="3.6" dy="-2">4</tspan></text>
<line x1="253.3" y1="240.9" x2="255.3" y2="240.9" stroke="#6e6e6e" stroke-width="0.8"/>
<text x="251" y="242.9" font-size="5.5" font-weight="bold" text-anchor="end" fill="#1a1a1a" stroke="#1a1a1a" stroke-width="0.16">6.5 × 10<tspan font-size="3.6" dy="-2">4</tspan></text>
<line x1="253.3" y1="276.3" x2="255.3" y2="276.3" stroke="#6e6e6e" stroke-width="0.8"/>
<text x="251" y="278.3" font-size="5.5" font-weight="bold" text-anchor="end" fill="#1a1a1a" stroke="#1a1a1a" stroke-width="0.16">6.0 × 10<tspan font-size="3.6" dy="-2">4</tspan></text>
<line x1="253.3" y1="311.7" x2="255.3" y2="311.7" stroke="#6e6e6e" stroke-width="0.8"/>
<text x="251" y="313.7" font-size="5.5" font-weight="bold" text-anchor="end" fill="#1a1a1a" stroke="#1a1a1a" stroke-width="0.16">5.5 × 10<tspan font-size="3.6" dy="-2">4</tspan></text>
<line x1="253.3" y1="347.1" x2="255.3" y2="347.1" stroke="#6e6e6e" stroke-width="0.8"/>
<text x="251" y="349.1" font-size="5.5" font-weight="bold" text-anchor="end" fill="#1a1a1a" stroke="#1a1a1a" stroke-width="0.16">5.0 × 10<tspan font-size="3.6" dy="-2">4</tspan></text>
<line x1="253.3" y1="346.8" x2="253.3" y2="344.8" stroke="#6e6e6e" stroke-width="0.8"/>
<text x="253.3" y="354.9" font-size="5.85" font-weight="bold" text-anchor="middle" fill="#1a1a1a" stroke="#1a1a1a" stroke-width="0.16">745</text>
<line x1="273" y1="346.8" x2="273" y2="344.8" stroke="#6e6e6e" stroke-width="0.8"/>
<text x="273" y="354.9" font-size="5.85" font-weight="bold" text-anchor="middle" fill="#1a1a1a" stroke="#1a1a1a" stroke-width="0.16">740</text>
<line x1="292.7" y1="346.8" x2="292.7" y2="344.8" stroke="#6e6e6e" stroke-width="0.8"/>
<text x="292.7" y="354.9" font-size="5.85" font-weight="bold" text-anchor="middle" fill="#1a1a1a" stroke="#1a1a1a" stroke-width="0.16">735</text>
<line x1="312.4" y1="346.8" x2="312.4" y2="344.8" stroke="#6e6e6e" stroke-width="0.8"/>
<text x="312.4" y="354.9" font-size="5.85" font-weight="bold" text-anchor="middle" fill="#1a1a1a" stroke="#1a1a1a" stroke-width="0.16">730</text>
<line x1="332.1" y1="346.8" x2="332.1" y2="344.8" stroke="#6e6e6e" stroke-width="0.8"/>
<text x="332.1" y="354.9" font-size="5.85" font-weight="bold" text-anchor="middle" fill="#1a1a1a" stroke="#1a1a1a" stroke-width="0.16">725</text>
<line x1="351.8" y1="346.8" x2="351.8" y2="344.8" stroke="#6e6e6e" stroke-width="0.8"/>
<text x="351.8" y="354.9" font-size="5.85" font-weight="bold" text-anchor="middle" fill="#1a1a1a" stroke="#1a1a1a" stroke-width="0.16">720</text>
<line x1="371.4" y1="346.8" x2="371.4" y2="344.8" stroke="#6e6e6e" stroke-width="0.8"/>
<text x="371.4" y="354.9" font-size="5.85" font-weight="bold" text-anchor="middle" fill="#1a1a1a" stroke="#1a1a1a" stroke-width="0.16">715</text>
<line x1="391.1" y1="346.8" x2="391.1" y2="344.8" stroke="#6e6e6e" stroke-width="0.8"/>
<text x="391.1" y="354.9" font-size="5.85" font-weight="bold" text-anchor="middle" fill="#1a1a1a" stroke="#1a1a1a" stroke-width="0.16">710</text>
<line x1="410.8" y1="346.8" x2="410.8" y2="344.8" stroke="#6e6e6e" stroke-width="0.8"/>
<text x="410.8" y="354.9" font-size="5.85" font-weight="bold" text-anchor="middle" fill="#1a1a1a" stroke="#1a1a1a" stroke-width="0.16">705</text>
<line x1="430.5" y1="346.8" x2="430.5" y2="344.8" stroke="#6e6e6e" stroke-width="0.8"/>
<text x="430.5" y="354.9" font-size="5.85" font-weight="bold" text-anchor="middle" fill="#1a1a1a" stroke="#1a1a1a" stroke-width="0.16">700</text>
<text x="337.8" y="364.5" font-size="6.8" font-weight="bold" text-anchor="middle" fill="#000" stroke="#000" stroke-width="0.22">Binding energy (eV)</text>
<text x="0" y="0" font-size="6.9" font-weight="bold" text-anchor="middle" fill="#000" stroke="#000" stroke-width="0.22" transform="translate(228.2 273.4) rotate(-90)">C/S</text>
<text x="261.6" y="216.6" font-size="9" font-weight="bold" text-anchor="start" fill="#000" stroke="#000" stroke-width="0.22">Fe2p</text>
<polyline points="253.6,239.1 255,238.6 256.8,239.2 259.1,237.4 260.9,239.2 262.8,240.6 264.6,239.1 266.9,241.5 269.1,241.8 271.4,242.9 272.8,241 273.4,240.8" fill="none" stroke="#555" stroke-width="0.8" stroke-linejoin="round" stroke-linecap="round"/>
<polyline points="273.1,241.4 273.6,241.7 274.1,242.1 274.6,242.4 275.1,242.7 275.6,243 276.1,243.4 276.6,243.7 277.1,244 277.6,244.3 278.1,244.7 278.6,245 279.1,245.3 279.6,245.6 280.1,246 280.6,246.3 281.1,246.6 281.6,246.9 282.1,247.2 282.6,247.6 283.1,247.9 283.6,248.2 284.1,248.5 284.6,248.9 285.1,249.2 285.6,249.5 286.1,249.8 286.6,250.2 287.1,250.5 287.6,250.8 288.1,251.1 288.6,251.5 289.1,251.8 289.6,252.1 290.1,252.4 290.6,252.7 291.1,253.1 291.6,253.4 292.1,253.7 292.6,254 293.1,254.4 293.6,254.7 294.1,255 294.6,255.3 295.1,255.6 295.6,256 296.1,256.3 296.6,256.6 297.1,256.9 297.6,257.3 298.1,257.6 298.6,257.9 299.1,258.2 299.6,258.5 300.1,258.9 300.6,259.2 301.1,259.5 301.6,259.8 302.1,260.1 302.6,260.5 303.1,260.8 303.6,261.1 304.1,261.4 304.6,261.8 305.1,262.1 305.6,262.4 306.1,262.7 306.6,263 307.1,263.4 307.6,263.7 308.1,264 308.6,264.3 309.1,264.6 309.6,265 310.1,265.3 310.6,265.6 311.1,265.9 311.6,266.2 312.1,266.6 312.6,266.9 313.1,267.2 313.6,267.5 314.1,267.8 314.6,268.1 315.1,268.5 315.6,268.8 316.1,269.1 316.6,269.4 317.1,269.7 317.6,270.1 318.1,270.4 318.6,270.7 319.1,271 319.6,271.3 320.1,271.7 320.6,272 321.1,272.3 321.6,272.6 322.1,272.9 322.6,273.2 323.1,273.6 323.6,273.9 324.1,274.2 324.6,274.5 325.1,274.8 325.6,275.1 326.1,275.5 326.6,275.8 327.1,276.1 327.6,276.4 328.1,276.7 328.6,277 329.1,277.4 329.6,277.7 330.1,278 330.6,278.3 331.1,278.6 331.6,278.9 332.1,279.3 332.6,279.6 333.1,279.9 333.6,280.2 334.1,280.5 334.6,280.8 335.1,281.2 335.6,281.5 336.1,281.8 336.6,282.1 337.1,282.4 337.6,282.7 338.1,283 338.6,283.4 339.1,283.7 339.6,284 340.1,284.3 340.6,284.6 341.1,284.9 341.6,285.3 342.1,285.6 342.6,285.9 343.1,286.2 343.6,286.5 344.1,286.8 344.6,287.1 345.1,287.4 345.6,287.8 346.1,288.1 346.6,288.4 347.1,288.7 347.6,289 348.1,289.3 348.6,289.6 349.1,290 349.6,290.3 350.1,290.6 350.6,290.9 351.1,291.2 351.6,291.5 352.1,291.8 352.6,292.2 353.1,292.5 353.6,292.8 354.1,293.1 354.6,293.4 355.1,293.7 355.6,294 356.1,294.3 356.6,294.7 357.1,295 357.6,295.3 358.1,295.6 358.6,295.9 359.1,296.2 359.6,296.5 360.1,296.8 360.6,297.1 361.1,297.5 361.6,297.8 362.1,298.1 362.6,298.4 363.1,298.7 363.6,299 364.1,299.3 364.6,299.6 365.1,299.9 365.6,300.3 366.1,300.6 366.6,300.9 367.1,301.2 367.6,301.5 368.1,301.8 368.6,302.1 369.1,302.4 369.6,302.7 370.1,303 370.6,303.4 371.1,303.7 371.6,304 372.1,304.3 372.6,304.6 373.1,304.9 373.6,305.2 374.1,305.5 374.6,305.8 375.1,306.1 375.6,306.5 376.1,306.8 376.6,307.1 377.1,307.4 377.6,307.7 378.1,308 378.6,308.3 379.1,308.6 379.6,308.9 380.1,309.2 380.6,309.5 381.1,309.8 381.6,310.2 382.1,310.5 382.6,310.8 383.1,311.1 383.6,311.4 384.1,311.7 384.6,312 385.1,312.3 385.6,312.6 386.1,312.9 386.6,313.2 387.1,313.5 387.6,313.8 388.1,314.2 388.6,314.5 389.1,314.8 389.6,315.1 390.1,315.4 390.6,315.7 391.1,316 391.6,316.3 392.1,316.6 392.6,316.9 393.1,317.2 393.6,317.5 394.1,317.8 394.6,318.1 395.1,318.4 395.6,318.8 396.1,319.1 396.6,319.4 397.1,319.7 397.6,320 398.1,320.3 398.6,320.6 399.1,320.9 399.6,321.2 400.1,321.5 400.6,321.8 401.1,322.1 401.6,322.4 402.1,322.7 402.6,323 403.1,323.3 403.6,323.6 404.1,323.9 404.6,324.2 405.1,324.5 405.6,324.9 406.1,325.2 406.6,325.5 407.1,325.8 407.6,326.1 408.1,326.4 408.6,326.7 409.1,327 409.6,327.3 410.1,327.6 410.6,327.9 411.1,328.2 411.6,328.5 412.1,328.8 412.6,329.1 413.1,329.4 413.6,329.7 414.1,330 414.6,330.3 415.1,330.6 415.6,330.9 416.1,331.2 416.6,331.5 417.1,331.8 417.6,332.1 418.1,332.4 418.6,332.7 419.1,333 419.6,333.3 420.1,333.6 420.6,333.9 421.1,334.2 421.6,334.5 422.1,334.8 422.6,335.1 423.1,335.4 423.6,335.7 424.1,336.1 424.6,336.4 425.1,336.7 425.6,337 426.1,337.3 426.6,337.6 427.1,337.9 427.6,338.2 428.1,338.5 428.6,338.8 429.1,339.1 429.6,339.4 430.1,339.7" fill="none" stroke="#22b0a8" stroke-width="1.3" stroke-linejoin="round" stroke-linecap="round"/>
<polyline points="274,241.9 274.5,242.2 275,242.5 275.5,242.8 276,243 276.5,243.3 277,243.6 277.5,243.9 278,244.2 278.5,244.5 279,244.8 279.5,245 280,245.3 280.5,245.6 281,245.9 281.5,246.2 282,246.5 282.5,246.7 283,247 283.5,247.3 284,247.6 284.5,247.9 285,248.2 285.5,248.5 286,248.7 286.5,249 287,249.3 287.5,249.6 288,249.9 288.5,250.2 289,250.5 289.5,250.8 290,251.2 290.5,251.5 291,251.8 291.5,252.1 292,252.5 292.5,252.8 293,253.1 293.5,253.4 294,253.7 294.5,254.1 295,254.4 295.5,254.7 296,255 296.5,255.3 297,255.7 297.5,256 298,256.3 298.5,256.6 299,257 299.5,257.3 300,257.6 300.5,257.9 301,258.2 301.5,258.6 302,258.9 302.5,259.2 303,259.5 303.5,259.8 304,260.2 304.5,260.5 305,260.8 305.5,261.1 306,261.4 306.5,261.8 307,262.1 307.5,262.4 308,262.7 308.5,263 309,263.3 309.5,263.7 310,264 310.5,264.3 311,264.6 311.5,264.9 312,265.2 312.5,265.5 313,265.8 313.5,266.1 314,266.4 314.5,266.7 315,267 315.5,267.3 316,267.6 316.5,267.8 317,268.1 317.5,268.4 318,268.6 318.5,268.9 319,269.1 319.5,269.3 320,269.5 320.5,269.7 321,269.9 321.5,270.1 322,270.2 322.5,270.4 323,270.5 323.5,270.6 324,270.7 324.5,270.8 325,270.9 325.5,270.9 326,270.9 326.5,270.9 327,270.9 327.5,270.9 328,270.9 328.5,270.8 329,270.8 329.5,270.7 330,270.6 330.5,270.6 331,270.5 331.5,270.4 332,270.3 332.5,270.3 333,270.2 333.5,270.2 334,270.1 334.5,270.1 335,270.1 335.5,270.2 336,270.2 336.5,270.3 337,270.4 337.5,270.6 338,270.8 338.5,271 339,271.2 339.5,271.5 340,271.9 340.5,272.3 341,272.7 341.5,273.2 342,273.8 342.5,274.4 343,275.1 343.5,275.8 344,276.5 344.5,277.3 345,278.1 345.5,278.9 346,279.7 346.5,280.5 347,281.3 347.5,282.2 348,283 348.5,283.8 349,284.6 349.5,285.4 350,286.1 350.5,286.9 351,287.6 351.5,288.3 352,288.9 352.5,289.5 353,290.2 353.5,290.7 354,291.3 354.5,291.8 355,292.3 355.5,292.8 356,293.3 356.5,293.8 357,294.2 357.5,294.6 358,295 358.5,295.4 359,295.8 359.5,296.2 360,296.5 360.5,296.9 361,297.2 361.5,297.6 362,297.9 362.5,298.2 363,298.6 363.5,298.9 364,299.2 364.5,299.5 365,299.9 365.5,300.2 366,300.5 366.5,300.8 367,301.1 367.5,301.4 368,301.7 368.5,302.1 369,302.4 369.5,302.7 370,303 370.5,303.3 371,303.6 371.5,303.9 372,304.2" fill="none" stroke="#9a7f7f" stroke-width="1.1" stroke-linejoin="round" stroke-linecap="round"/>
<polyline points="273.1,241.1 279.4,244.8 285.1,247.7 290.8,250.5 296.5,252.5 302.2,254.5 307.9,256.2 313.6,258.1 318,260 320.5,261.2 325.6,265.3 330.7,270.4 335.9,275.5 341,280.1 345,283.2 350,287 354,290.2 357.3,291.6 362,292.2 366.4,291.7 370,290.4 373.7,289.4 376,289.8 378,291.6 380,294.5 382.8,299.2 385.5,304 388.3,308.3 391,312.3 393.8,316.2 398,319.3 402,322.2 406,324.6 410,327 415,330.1 420,333.1 425,336.1 430.5,339.4" fill="none" stroke="#b5a630" stroke-width="1.2" stroke-linejoin="round" stroke-linecap="round"/>
<polyline points="340,283.9 340.5,284.2 341,284.5 341.5,284.8 342,285.1 342.5,285.4 343,285.7 343.5,286 344,286.2 344.5,286.5 345,286.8 345.5,287.1 346,287.3 346.5,287.6 347,287.9 347.5,288.2 348,288.4 348.5,288.7 349,289 349.5,289.2 350,289.5 350.5,289.8 351,290 351.5,290.3 352,290.5 352.5,290.8 353,291.1 353.5,291.3 354,291.6 354.5,291.8 355,292.1 355.5,292.3 356,292.6 356.5,292.8 357,293.1 357.5,293.3 358,293.6 358.5,293.8 359,294.1 359.5,294.3 360,294.6 360.5,294.8 361,295.1 361.5,295.3 362,295.5 362.5,295.8 363,296 363.5,296.2 364,296.5 364.5,296.7 365,296.9 365.5,297.1 366,297.3 366.5,297.5 367,297.6 367.5,297.7 368,297.8 368.5,297.9 369,298 369.5,298 370,297.9 370.5,297.8 371,297.7 371.5,297.5 372,297.2 372.5,296.9 373,296.5 373.5,296 374,295.5 374.5,294.8 375,294.1 375.5,293.3 376,292.5 376.5,291.5 377,290.5 377.5,289.4 378,288.2 378.5,287 379,285.8 379.5,284.5 380,283.3 380.5,282 381,280.8 381.5,279.6 382,278.5 382.5,277.4 383,276.5 383.5,275.7 384,275 384.5,274.4 385,274 385.5,273.8 386,273.8 386.5,273.9 387,274.3 387.5,274.9 388,275.7 388.5,276.8 389,278.2 389.5,279.7 390,281.5 390.5,283.4 391,285.4 391.5,287.5 392,289.7 392.5,292 393,294.2 393.5,296.5 394,298.7 394.5,300.8 395,302.8 395.5,304.8 396,306.6 396.5,308.4 397,310 397.5,311.5 398,312.9 398.5,314.1 399,315.3 399.5,316.3 400,317.3 400.5,318.1 401,318.9 401.5,319.6 402,320.3 402.5,320.9 403,321.5 403.5,322 404,322.5 404.5,322.9 405,323.3 405.5,323.8 406,324.1 406.5,324.5 407,324.9 407.5,325.3 408,325.6 408.5,326 409,326.3 409.5,326.7 410,327 410.5,327.4 411,327.7 411.5,328 412,328.4 412.5,328.7 413,329 413.5,329.4 414,329.7 414.5,330 415,330.3 415.5,330.7 416,331 416.5,331.3 417,331.6 417.5,331.9 418,332.3 418.5,332.6 419,332.9 419.5,333.2 420,333.5 420.5,333.8 421,334.1 421.5,334.4 422,334.7 422.5,335.1 423,335.4 423.5,335.7 424,336 424.5,336.3 425,336.6 425.5,336.9 426,337.2 426.5,337.5 427,337.8 427.5,338.1 428,338.4 428.5,338.7 429,339 429.5,339.3 430,339.6 430.5,339.9" fill="none" stroke="#b885e8" stroke-width="1.1" stroke-linejoin="round" stroke-linecap="round"/>
<polyline points="375,306.1 375.5,306.4 376,306.7 376.5,307 377,307.3 377.5,307.6 378,307.9 378.5,308.2 379,308.5 379.5,308.8 380,309.1 380.5,309.4 381,309.8 381.5,310.1 382,310.4 382.5,310.7 383,311 383.5,311.3 384,311.6 384.5,311.9 385,312.2 385.5,312.5 386,312.8 386.5,313.1 387,313.4 387.5,313.6 388,313.9 388.5,314.2 389,314.4 389.5,314.6 390,314.7 390.5,314.8 391,314.9 391.5,314.8 392,314.6 392.5,314.3 393,313.9 393.5,313.4 394,312.8 394.5,312.1 395,311.3 395.5,310.5 396,309.7 396.5,309 397,308.5 397.5,308.1 398,308 398.5,308.1 399,308.5 399.5,309.1 400,309.8 400.5,310.6 401,311.5 401.5,312.6 402,313.7 402.5,314.8 403,316 403.5,317.1 404,318.3 404.5,319.3 405,320.3 405.5,321.2 406,322.1 406.5,322.9 407,323.6 407.5,324.2 408,324.8 408.5,325.3 409,325.8 409.5,326.2 410,326.6 410.5,327 411,327.4 411.5,327.7 412,328.1 412.5,328.4 413,328.7 413.5,329.1 414,329.4 414.5,329.7 415,330 415.5,330.3 416,330.6 416.5,330.9 417,331.3 417.5,331.6 418,331.9 418.5,332.2 419,332.5 419.5,332.8 420,333.2 420.5,333.5 421,333.8 421.5,334.1 422,334.4 422.5,334.7 423,335.1 423.5,335.4 424,335.7 424.5,336 425,336.3 425.5,336.6 426,336.9 426.5,337.3 427,337.6 427.5,337.9 428,338.2 428.5,338.5 429,338.8 429.5,339.1 430,339.5 430.5,339.8" fill="none" stroke="#45b585" stroke-width="1.1" stroke-linejoin="round" stroke-linecap="round"/>
<polyline points="273.1,240.6 279.4,244 285.1,246.8 290.8,249.4 296.5,251.7 302.2,252.8 307.9,254.5 313.6,256.2 318,257.3 323.8,260.1 330,261.8 335.5,262.4 339.1,264.4 342.8,269 346.4,274 351.9,281 357.3,284.3 362.8,284.6 368.3,282.6 373.7,277.3 379.2,270 382,266.8 384.7,265.3 386.5,265.5 389.2,269.1 392,279.2 394.7,290.1 398.3,299.2 402,304.7 404.7,308.8 407.4,316.5 410,321.1 415,327 420,331.5 425,335.5 430.5,339.5" fill="none" stroke="#e35a5e" stroke-width="1.2" stroke-linejoin="round" stroke-linecap="round"/>
<polyline points="274,241.6 274.9,242 275.8,241 276.7,244.2 277.6,243.7 278.5,242.9 279.4,244.6 280.3,244.7 281.2,245 282.1,244.9 283,247.7 283.9,246.8 284.8,247.4 285.7,248.1 286.6,249.3 287.5,246.1 288.4,248.7 289.3,249.6 290.2,248.2 291.1,249.1 292,248.2 292.9,249.1 293.8,250.1 294.7,249.4 295.6,250.4 296.5,253.2 297.4,252.1 298.3,252.1 299.2,254 300.1,252.7 301,254.4 301.9,253.3 302.8,254.2 303.7,251.6 304.6,253.9 305.5,254.8 306.4,252.3 307.3,256 308.2,253.3 309.1,254.8 310,253.9 310.9,255.4 311.8,256.1 312.7,254.3 313.6,257.9 314.5,256.1 315.4,256.8 316.3,257.2 317.2,256.6 318.1,256.5 319,258.4 319.9,258.4 320.8,257.8 321.7,259.9 322.6,258.7 323.5,258.1 324.4,259.3 325.3,258.8 326.2,259.5 327.1,262 328,260.8 328.9,263 329.8,262.7 330.7,260.2 331.6,263.8 332.5,263.8 333.4,260.6 334.3,263.8 335.2,262.1 336.1,262.6 337,265 337.9,262.8 338.8,264.3 339.7,266.8 340.6,267.1 341.5,267.3 342.4,270.3 343.3,270.9 344.2,271.3 345.1,270.7 346,273.9 346.9,274.5 347.8,274.7 348.7,275.2 349.6,278.2 350.5,277.8 351.4,280.1 352.3,281.9 353.2,281.6 354.1,281.4 355,283.2 355.9,283.1 356.8,285.1 357.7,284.4 358.6,286.3 359.5,286.1 360.4,285.4 361.3,283.5 362.2,283.1 363.1,286 364,285.2 364.9,284.3 365.8,283 366.7,282.3 367.6,283.6 368.5,282.7 369.4,281.9 370.3,281.1 371.2,280.7 372.1,277.7 373,277 373.9,278.9 374.8,277.4 375.7,276.1 376.6,271.7 377.5,270.6 378.4,270.2 379.3,269.6 380.2,269.3 381.1,266.3 382,267 382.9,264.7 383.8,264.2 384.7,265.9 385.6,265.5 386.5,265.7 387.4,265.5 388.3,266.6 389.2,266.1 390.1,269.4 391,273.9 391.9,277.7 392.8,278.9 393.7,283.3 394.6,290 395.5,291.8 396.4,294.4 397.3,294.3 398.2,297.6 399.1,298.8 400,302.6 400.9,302.3 401.8,303.7 402.7,304.3 403.6,302.6 404.5,306.7 405.4,311.3 406.3,314.9 407.2,315.7 408.1,317.2 409,317.8 409.9,322.3 410.8,320.4 411.7,321.5 412.6,324.4 413.5,325.2 414.4,327 415.3,326.5 416.2,329.1 417.1,327.3 418,328.6 418.9,331.1 419.8,329.7 420.7,331.3 421.6,333.6 422.5,334.2 423.4,333.4 424.3,333.6 425.2,335.1 426.1,337.2 427,336.4 427.9,336.2 428.8,339.1 429.7,339.2" fill="none" stroke="#555" stroke-width="0.75" stroke-linejoin="round" stroke-linecap="round"/>
<text x="352.6" y="269.6" font-size="7.2" font-weight="bold" fill="#000" stroke="#000" stroke-width="0.22">FeSO<tspan font-size="5" dy="1.8">4</tspan></text>
<text x="386.5" y="263.6" font-size="6.8" font-weight="bold" text-anchor="middle" fill="#000" stroke="#000" stroke-width="0.22">Fe-S</text>
<text x="404.6" y="300" font-size="6.8" font-weight="bold" text-anchor="start" fill="#000" stroke="#000" stroke-width="0.22">Fe</text>
<text x="14.6" y="377" font-size="9.2" font-weight="bold" text-anchor="start" fill="#000" stroke="#000" stroke-width="0.45">(d)</text>
<line x1="30.3" y1="385" x2="219.3" y2="385" stroke="#dcdcdc" stroke-width="1.0"/>
<line x1="219.3" y1="385" x2="219.3" y2="526.2" stroke="#dcdcdc" stroke-width="1.0"/>
<line x1="30.3" y1="385" x2="30.3" y2="526.2" stroke="#6e6e6e" stroke-width="1.0"/>
<line x1="30.3" y1="526.2" x2="219.3" y2="526.2" stroke="#6e6e6e" stroke-width="1.0"/>
<line x1="30.3" y1="526.2" x2="32.3" y2="526.2" stroke="#6e6e6e" stroke-width="0.8"/>
<text x="28" y="528.2" font-size="5.5" font-weight="bold" text-anchor="end" fill="#1a1a1a" stroke="#1a1a1a" stroke-width="0.16">1.5 × 10<tspan font-size="3.6" dy="-2">4</tspan></text>
<line x1="30.3" y1="479.2" x2="32.3" y2="479.2" stroke="#6e6e6e" stroke-width="0.8"/>
<text x="28" y="481.2" font-size="5.5" font-weight="bold" text-anchor="end" fill="#1a1a1a" stroke="#1a1a1a" stroke-width="0.16">2.0 × 10<tspan font-size="3.6" dy="-2">4</tspan></text>
<line x1="30.3" y1="432.3" x2="32.3" y2="432.3" stroke="#6e6e6e" stroke-width="0.8"/>
<text x="28" y="434.2" font-size="5.5" font-weight="bold" text-anchor="end" fill="#1a1a1a" stroke="#1a1a1a" stroke-width="0.16">2.5 × 10<tspan font-size="3.6" dy="-2">4</tspan></text>
<line x1="30.3" y1="385.3" x2="32.3" y2="385.3" stroke="#6e6e6e" stroke-width="0.8"/>
<text x="28" y="387.3" font-size="5.5" font-weight="bold" text-anchor="end" fill="#1a1a1a" stroke="#1a1a1a" stroke-width="0.16">3.0 × 10<tspan font-size="3.6" dy="-2">4</tspan></text>
<line x1="30.3" y1="526.2" x2="30.3" y2="524.2" stroke="#6e6e6e" stroke-width="0.8"/>
<text x="30.3" y="534.1" font-size="5.85" font-weight="bold" text-anchor="middle" fill="#1a1a1a" stroke="#1a1a1a" stroke-width="0.16">175</text>
<line x1="77.5" y1="526.2" x2="77.5" y2="524.2" stroke="#6e6e6e" stroke-width="0.8"/>
<text x="77.5" y="534.1" font-size="5.85" font-weight="bold" text-anchor="middle" fill="#1a1a1a" stroke="#1a1a1a" stroke-width="0.16">170</text>
<line x1="124.6" y1="526.2" x2="124.6" y2="524.2" stroke="#6e6e6e" stroke-width="0.8"/>
<text x="124.6" y="534.1" font-size="5.85" font-weight="bold" text-anchor="middle" fill="#1a1a1a" stroke="#1a1a1a" stroke-width="0.16">165</text>
<line x1="171.8" y1="526.2" x2="171.8" y2="524.2" stroke="#6e6e6e" stroke-width="0.8"/>
<text x="171.8" y="534.1" font-size="5.85" font-weight="bold" text-anchor="middle" fill="#1a1a1a" stroke="#1a1a1a" stroke-width="0.16">160</text>
<line x1="218.9" y1="526.2" x2="218.9" y2="524.2" stroke="#6e6e6e" stroke-width="0.8"/>
<text x="218.9" y="534.1" font-size="5.85" font-weight="bold" text-anchor="middle" fill="#1a1a1a" stroke="#1a1a1a" stroke-width="0.16">155</text>
<text x="125" y="542.8" font-size="6.6" font-weight="bold" text-anchor="middle" fill="#000" stroke="#000" stroke-width="0.22">Binding energy (eV)</text>
<text x="0" y="0" font-size="7.0" font-weight="bold" text-anchor="middle" fill="#000" stroke="#000" stroke-width="0.22" transform="translate(10.3 452.3) rotate(-90)">C/S</text>
<text x="37.4" y="396.9" font-size="9" font-weight="bold" text-anchor="start" fill="#000" stroke="#000" stroke-width="0.22">S2p</text>
<polyline points="30.5,487.2 31,487.2 31.5,487.2 32,487.2 32.5,487.3 33,487.3 33.5,487.3 34,487.3 34.5,487.4 35,487.4 35.5,487.4 36,487.4 36.5,487.5 37,487.5 37.5,487.5 38,487.5 38.5,487.6 39,487.6 39.5,487.6 40,487.6 40.5,487.6 41,487.7 41.5,487.7 42,487.7 42.5,487.7 43,487.8 43.5,487.8 44,487.8 44.5,487.8 45,487.9 45.5,487.9 46,487.9 46.5,487.9 47,488 47.5,488 48,488 48.5,488 49,488.1 49.5,488.1 50,488.1 50.5,488.1 51,488.2 51.5,488.2 52,488.2 52.5,488.2 53,488.2 53.5,488.3 54,488.3 54.5,488.3 55,488.3 55.5,488.4 56,488.4 56.5,488.4 57,488.4 57.5,488.4 58,488.5 58.5,488.5 59,488.5 59.5,488.5 60,488.5 60.5,488.5 61,488.4 61.5,488.4 62,488.4 62.5,488.3 63,488.2 63.5,488.1 64,488 64.5,487.8 65,487.6 65.5,487.3 66,487 66.5,486.7 67,486.2 67.5,485.7 68,485.2 68.5,484.6 69,483.9 69.5,483.1 70,482.2 70.5,481.3 71,480.4 71.5,479.3 72,478.3 72.5,477.2 73,476.1 73.5,475 74,473.9 74.5,472.8 75,471.9 75.5,471 76,470.2 76.5,469.5 77,468.9 77.5,468.5 78,468.3 78.5,468.2 79,468.3 79.5,468.5 80,468.8 80.5,469.3 81,469.9 81.5,470.6 82,471.5 82.5,472.4 83,473.3 83.5,474.3 84,475.4 84.5,476.5 85,477.6 85.5,478.7 86,479.7 86.5,480.7 87,481.7 87.5,482.7 88,483.5 88.5,484.3 89,485.1 89.5,485.8 90,486.4 90.5,487 91,487.5 91.5,487.9 92,488.3 92.5,488.7 93,489 93.5,489.3 94,489.5 94.5,489.7 95,489.8 95.5,490 96,490.1 96.5,490.2 97,490.3 97.5,490.4 98,490.5 98.5,490.5 99,490.6 99.5,490.6 100,490.7 100.5,490.7 101,490.7 101.5,490.7 102,490.8 102.5,490.8 103,490.8 103.5,490.8 104,490.9 104.5,490.9 105,490.9 105.5,490.9 106,491 106.5,491 107,491 107.5,491 108,491 108.5,491.1 109,491.1 109.5,491.1 110,491.1 110.5,491.2 111,491.2 111.5,491.2 112,491.2 112.5,491.2 113,491.3 113.5,491.3 114,491.3 114.5,491.3 115,491.3 115.5,491.4 116,491.4 116.5,491.4 117,491.4 117.5,491.5 118,491.5 118.5,491.5 119,491.5 119.5,491.5 120,491.6 120.5,491.6 121,491.6 121.5,491.6 122,491.7 122.5,491.7 123,491.7 123.5,491.7 124,491.7 124.5,491.8 125,491.8 125.5,491.8 126,491.8 126.5,491.8 127,491.9 127.5,491.9 128,491.9 128.5,491.9 129,492 129.5,492 130,492 130.5,492 131,492.1 131.5,492.1 132,492.2 132.5,492.2 133,492.3 133.5,492.3 134,492.4 134.5,492.4 135,492.5 135.5,492.5 136,492.6 136.5,492.6 137,492.7 137.5,492.7 138,492.7 138.5,492.8 139,492.8 139.5,492.9 140,492.9 140.5,493 141,493 141.5,493.1 142,493.1 142.5,493.2 143,493.2 143.5,493.3 144,493.3 144.5,493.4 145,493.4 145.5,493.5 146,493.5 146.5,493.6 147,493.6 147.5,493.7 148,493.8 148.5,493.8 149,493.9 149.5,493.9 150,494 150.5,494.1 151,494.1 151.5,494.2 152,494.2 152.5,494.3 153,494.4 153.5,494.4 154,494.5 154.5,494.5 155,494.6 155.5,494.7 156,494.7 156.5,494.8 157,494.8 157.5,494.9 158,495 158.5,495 159,495.1 159.5,495.1 160,495.2 160.5,495.2 161,495.3 161.5,495.3 162,495.4 162.5,495.4 163,495.5 163.5,495.5 164,495.6 164.5,495.6 165,495.7 165.5,495.7 166,495.8 166.5,495.8 167,495.9 167.5,495.9 168,495.9 168.5,496 169,496 169.5,496.1 170,496.1 170.5,496.2 171,496.2 171.5,496.3 172,496.3 172.5,496.4 173,496.4 173.5,496.5 174,496.5 174.5,496.6 175,496.6 175.5,496.6 176,496.6 176.5,496.7 177,496.7 177.5,496.7 178,496.7 178.5,496.7 179,496.7 179.5,496.8 180,496.8 180.5,496.8 181,496.8 181.5,496.8 182,496.8 182.5,496.9 183,496.9 183.5,496.9 184,496.9 184.5,496.9 185,496.9 185.5,497 186,497 186.5,497 187,497 187.5,497 188,497 188.5,497.1 189,497.1 189.5,497.1 190,497.1 190.5,497.1 191,497.1 191.5,497.1 192,497.1 192.5,497.1 193,497.1 193.5,497.1 194,497.1 194.5,497.1 195,497.1 195.5,497.1 196,497.1 196.5,497.1 197,497.1 197.5,497.1 198,497.1 198.5,497.1 199,497.1 199.5,497.1 200,497.1 200.5,497.1 201,497.1 201.5,497.1 202,497.1 202.5,497.1 203,497.1 203.5,497.1 204,497.1 204.5,497.1 205,497.1 205.5,497.2 206,497.2 206.5,497.2 207,497.2 207.5,497.2 208,497.2 208.5,497.2 209,497.2 209.5,497.2 210,497.2 210.5,497.2 211,497.2 211.5,497.2 212,497.2 212.5,497.2 213,497.2 213.5,497.2 214,497.2 214.5,497.2 215,497.2 215.5,497.2 216,497.2 216.5,497.2 217,497.2 217.5,497.2 218,497.2 218.5,497.2 219,497.2" fill="none" stroke="#2a6fd6" stroke-width="1.3" stroke-linejoin="round" stroke-linecap="round"/>
<polyline points="30.5,487.2 31,487.2 31.5,487.2 32,487.2 32.5,487.3 33,487.3 33.5,487.3 34,487.3 34.5,487.4 35,487.4 35.5,487.4 36,487.4 36.5,487.5 37,487.5 37.5,487.5 38,487.5 38.5,487.6 39,487.6 39.5,487.6 40,487.6 40.5,487.7 41,487.7 41.5,487.7 42,487.7 42.5,487.7 43,487.8 43.5,487.8 44,487.8 44.5,487.8 45,487.9 45.5,487.9 46,487.9 46.5,487.9 47,488 47.5,488 48,488 48.5,488 49,488.1 49.5,488.1 50,488.1 50.5,488.1 51,488.2 51.5,488.2 52,488.2 52.5,488.2 53,488.2 53.5,488.3 54,488.3 54.5,488.3 55,488.3 55.5,488.4 56,488.4 56.5,488.4 57,488.4 57.5,488.5 58,488.5 58.5,488.5 59,488.5 59.5,488.6 60,488.6 60.5,488.6 61,488.6 61.5,488.7 62,488.7 62.5,488.7 63,488.7 63.5,488.8 64,488.8 64.5,488.8 65,488.8 65.5,488.8 66,488.9 66.5,488.9 67,488.9 67.5,488.9 68,489 68.5,489 69,489 69.5,489 70,489.1 70.5,489.1 71,489.1 71.5,489.1 72,489.2 72.5,489.2 73,489.2 73.5,489.2 74,489.3 74.5,489.3 75,489.3 75.5,489.3 76,489.4 76.5,489.4 77,489.4 77.5,489.4 78,489.5 78.5,489.5 79,489.5 79.5,489.6 80,489.6 80.5,489.6 81,489.6 81.5,489.7 82,489.7 82.5,489.7 83,489.7 83.5,489.8 84,489.8 84.5,489.8 85,489.9 85.5,489.9 86,489.9 86.5,489.9 87,490 87.5,490 88,490 88.5,490.1 89,490.1 89.5,490.1 90,490.1 90.5,490.2 91,490.2 91.5,490.2 92,490.3 92.5,490.3 93,490.3 93.5,490.3 94,490.4 94.5,490.4 95,490.4 95.5,490.4 96,490.5 96.5,490.5 97,490.5 97.5,490.6 98,490.6 98.5,490.6 99,490.6 99.5,490.7 100,490.7 100.5,490.7 101,490.7 101.5,490.8 102,490.8 102.5,490.8 103,490.8 103.5,490.9 104,490.9 104.5,490.9 105,490.9 105.5,490.9 106,491 106.5,491 107,491 107.5,491 108,491 108.5,491.1 109,491.1 109.5,491.1 110,491.1 110.5,491.2 111,491.2 111.5,491.2 112,491.2 112.5,491.2 113,491.3 113.5,491.3 114,491.3 114.5,491.3 115,491.4 115.5,491.4 116,491.4 116.5,491.4 117,491.4 117.5,491.5 118,491.5 118.5,491.5 119,491.5 119.5,491.5 120,491.6 120.5,491.6 121,491.6 121.5,491.6 122,491.7 122.5,491.7 123,491.7 123.5,491.7 124,491.7 124.5,491.8 125,491.8 125.5,491.8 126,491.8 126.5,491.8 127,491.9 127.5,491.9 128,491.9 128.5,491.9 129,492 129.5,492 130,492 130.5,492 131,492.1 131.5,492.1 132,492.2" fill="none" stroke="#30c4cc" stroke-width="1.4" stroke-linejoin="round" stroke-linecap="round"/>
<polyline points="62,488.7 62.5,488.7 63,488.7 63.5,488.7 64,488.8 64.5,488.8 65,488.8 65.5,488.8 66,488.9 66.5,488.9 67,488.9 67.5,488.9 68,489 68.5,489 69,489 69.5,489 70,489 70.5,489 71,489 71.5,489 72,489 72.5,489 73,488.9 73.5,488.8 74,488.7 74.5,488.6 75,488.4 75.5,488.2 76,487.9 76.5,487.5 77,487.1 77.5,486.5 78,485.9 78.5,485.1 79,484.2 79.5,483.1 80,481.9 80.5,480.5 81,479 81.5,477.3 82,475.4 82.5,473.4 83,471.3 83.5,469.1 84,466.8 84.5,464.5 85,462.2 85.5,459.9 86,457.8 86.5,455.8 87,454 87.5,452.4 88,451.1 88.5,450.1 89,449.4 89.5,449.1 90,449.2 90.5,449.6 91,450.3 91.5,451.4 92,452.7 92.5,454.3 93,456.1 93.5,458 94,460.2 94.5,462.4 95,464.6 95.5,466.9 96,469.2 96.5,471.4 97,473.5 97.5,475.6 98,477.5 98.5,479.2 99,480.8 99.5,482.3 100,483.6 100.5,484.8 101,485.8 101.5,486.7 102,487.4 102.5,488.1 103,488.6 103.5,489.1 104,489.5 104.5,489.8 105,490.1 105.5,490.3 106,490.5 106.5,490.6 107,490.7 107.5,490.8 108,490.9 108.5,490.9 109,491 109.5,491 110,491.1 110.5,491.1 111,491.2 111.5,491.2 112,491.2 112.5,491.2 113,491.3 113.5,491.3 114,491.3 114.5,491.3 115,491.3 115.5,491.4 116,491.4 116.5,491.4 117,491.4 117.5,491.5 118,491.5" fill="none" stroke="#e8484c" stroke-width="1.3" stroke-linejoin="round" stroke-linecap="round"/>
<polyline points="100,490.7 100.5,490.7 101,490.7 101.5,490.7 102,490.7 102.5,490.8 103,490.8 103.5,490.8 104,490.8 104.5,490.8 105,490.8 105.5,490.8 106,490.8 106.5,490.8 107,490.8 107.5,490.8 108,490.8 108.5,490.7 109,490.7 109.5,490.7 110,490.6 110.5,490.6 111,490.5 111.5,490.4 112,490.4 112.5,490.3 113,490.2 113.5,490.1 114,489.9 114.5,489.8 115,489.6 115.5,489.5 116,489.3 116.5,489.1 117,488.8 117.5,488.6 118,488.3 118.5,488.1 119,487.8 119.5,487.4 120,487.1 120.5,486.8 121,486.4 121.5,486 122,485.6 122.5,485.2 123,484.8 123.5,484.4 124,484 124.5,483.5 125,483.1 125.5,482.6 126,482.2 126.5,481.8 127,481.3 127.5,480.9 128,480.5 128.5,480.1 129,479.8 129.5,479.4 130,479.1 130.5,478.8 131,478.6 131.5,478.4 132,478.2 132.5,478.1 133,478 133.5,477.9 134,477.9 134.5,477.9 135,478 135.5,478.1 136,478.2 136.5,478.3 137,478.5 137.5,478.7 138,479 138.5,479.3 139,479.6 139.5,479.9 140,480.2 140.5,480.6 141,481 141.5,481.4 142,481.8 142.5,482.2 143,482.7 143.5,483.1 144,483.6 144.5,484.1 145,484.5 145.5,485 146,485.5 146.5,486 147,486.4 147.5,486.9 148,487.3 148.5,487.8 149,488.2 149.5,488.6 150,489.1 150.5,489.5 151,489.8 151.5,490.2 152,490.6 152.5,490.9 153,491.2 153.5,491.6 154,491.8 154.5,492.1 155,492.4 155.5,492.7 156,492.9 156.5,493.1 157,493.4 157.5,493.6 158,493.7 158.5,493.9 159,494.1 159.5,494.3 160,494.4 160.5,494.6 161,494.7 161.5,494.8 162,494.9 162.5,495 163,495.1 163.5,495.2 164,495.3 164.5,495.4 165,495.4 165.5,495.5 166,495.6 166.5,495.7 167,495.7 167.5,495.8 168,495.9 168.5,495.9 169,496 169.5,496 170,496.1 170.5,496.1 171,496.2 171.5,496.2 172,496.3 172.5,496.3 173,496.4 173.5,496.4 174,496.5 174.5,496.5 175,496.6 175.5,496.6 176,496.6 176.5,496.6 177,496.7 177.5,496.7 178,496.7 178.5,496.7 179,496.7 179.5,496.7 180,496.8" fill="none" stroke="#b07ae0" stroke-width="1.3" stroke-linejoin="round" stroke-linecap="round"/>
<polyline points="105,490.9 105.5,490.9 106,490.9 106.5,491 107,491 107.5,491 108,491 108.5,491 109,491 109.5,491 110,491 110.5,491.1 111,491.1 111.5,491.1 112,491.1 112.5,491.1 113,491 113.5,491 114,491 114.5,491 115,491 115.5,490.9 116,490.9 116.5,490.8 117,490.7 117.5,490.7 118,490.6 118.5,490.5 119,490.4 119.5,490.2 120,490.1 120.5,489.9 121,489.7 121.5,489.5 122,489.3 122.5,489.1 123,488.8 123.5,488.5 124,488.2 124.5,487.8 125,487.5 125.5,487.1 126,486.6 126.5,486.2 127,485.7 127.5,485.2 128,484.6 128.5,484 129,483.4 129.5,482.8 130,482.1 130.5,481.4 131,480.7 131.5,480 132,479.3 132.5,478.5 133,477.7 133.5,477 134,476.2 134.5,475.4 135,474.6 135.5,473.8 136,473 136.5,472.2 137,471.5 137.5,470.7 138,470 138.5,469.3 139,468.7 139.5,468.1 140,467.5 140.5,467 141,466.5 141.5,466.1 142,465.8 142.5,465.5 143,465.3 143.5,465.1 144,465 144.5,465 145,465 145.5,465.1 146,465.3 146.5,465.6 147,466 147.5,466.4 148,466.9 148.5,467.5 149,468.1 149.5,468.7 150,469.5 150.5,470.2 151,471.1 151.5,471.9 152,472.8 152.5,473.7 153,474.6 153.5,475.6 154,476.5 154.5,477.5 155,478.4 155.5,479.4 156,480.3 156.5,481.3 157,482.2 157.5,483.1 158,483.9 158.5,484.8 159,485.6 159.5,486.3 160,487.1 160.5,487.8 161,488.5 161.5,489.1 162,489.7 162.5,490.2 163,490.8 163.5,491.3 164,491.7 164.5,492.2 165,492.6 165.5,492.9 166,493.3 166.5,493.6 167,493.9 167.5,494.2 168,494.4 168.5,494.6 169,494.9 169.5,495 170,495.2 170.5,495.4 171,495.5 171.5,495.7 172,495.8 172.5,495.9 173,496 173.5,496.1 174,496.2 174.5,496.3 175,496.4 175.5,496.4 176,496.5 176.5,496.5 177,496.6 177.5,496.6 178,496.6 178.5,496.7 179,496.7 179.5,496.7 180,496.7 180.5,496.8 181,496.8 181.5,496.8 182,496.8 182.5,496.8 183,496.9 183.5,496.9 184,496.9 184.5,496.9 185,496.9 185.5,496.9 186,497 186.5,497 187,497 187.5,497 188,497 188.5,497 189,497.1 189.5,497.1 190,497.1 190.5,497.1 191,497.1 191.5,497.1 192,497.1 192.5,497.1 193,497.1 193.5,497.1 194,497.1 194.5,497.1 195,497.1 195.5,497.1 196,497.1 196.5,497.1 197,497.1 197.5,497.1 198,497.1 198.5,497.1 199,497.1 199.5,497.1 200,497.1" fill="none" stroke="#2bb07a" stroke-width="1.3" stroke-linejoin="round" stroke-linecap="round"/>
<polyline points="122,491.6 122.5,491.7 123,491.7 123.5,491.7 124,491.7 124.5,491.7 125,491.8 125.5,491.8 126,491.8 126.5,491.8 127,491.8 127.5,491.7 128,491.7 128.5,491.7 129,491.6 129.5,491.5 130,491.4 130.5,491.2 131,491.1 131.5,490.9 132,490.6 132.5,490.2 133,489.8 133.5,489.4 134,488.8 134.5,488.2 135,487.5 135.5,486.7 136,485.8 136.5,484.9 137,483.8 137.5,482.8 138,481.7 138.5,480.5 139,479.4 139.5,478.3 140,477.3 140.5,476.3 141,475.4 141.5,474.6 142,474 142.5,473.5 143,473.2 143.5,473.1 144,473.2 144.5,473.6 145,474.3 145.5,475.4 146,476.7 146.5,478.2 147,479.8 147.5,481.4 148,483.1 148.5,484.7 149,486.2 149.5,487.6 150,488.9 150.5,490 151,490.9 151.5,491.7 152,492.4 152.5,492.9 153,493.3 153.5,493.7 154,494 154.5,494.2 155,494.4 155.5,494.5 156,494.6 156.5,494.7 157,494.8 157.5,494.9 158,494.9 158.5,495 159,495.1 159.5,495.1 160,495.2 160.5,495.2 161,495.3 161.5,495.3 162,495.4 162.5,495.4 163,495.5 163.5,495.5 164,495.6 164.5,495.6 165,495.7 165.5,495.7 166,495.8 166.5,495.8 167,495.9 167.5,495.9 168,495.9 168.5,496 169,496 169.5,496.1 170,496.1 170.5,496.2 171,496.2 171.5,496.3 172,496.3 172.5,496.4 173,496.4 173.5,496.5 174,496.5 174.5,496.6 175,496.6 175.5,496.6 176,496.6 176.5,496.7 177,496.7 177.5,496.7 178,496.7 178.5,496.7 179,496.7 179.5,496.8 180,496.8 180.5,496.8 181,496.8 181.5,496.8 182,496.8 182.5,496.9 183,496.9 183.5,496.9 184,496.9 184.5,496.9 185,496.9 185.5,497 186,497 186.5,497 187,497 187.5,497 188,497 188.5,497.1 189,497.1 189.5,497.1 190,497.1 190.5,497.1 191,497.1 191.5,497.1 192,497.1 192.5,497.1 193,497.1 193.5,497.1 194,497.1 194.5,497.1 195,497.1 195.5,497.1 196,497.1 196.5,497.1 197,497.1 197.5,497.1 198,497.1 198.5,497.1 199,497.1 199.5,497.1 200,497.1 200.5,497.1 201,497.1 201.5,497.1 202,497.1 202.5,497.1 203,497.1 203.5,497.1 204,497.1 204.5,497.1 205,497.1 205.5,497.2 206,497.2 206.5,497.2 207,497.2 207.5,497.2 208,497.2 208.5,497.2 209,497.2 209.5,497.2 210,497.2 210.5,497.2 211,497.2 211.5,497.2 212,497.2 212.5,497.2 213,497.2 213.5,497.2 214,497.2 214.5,497.2 215,497.2 215.5,497.2 216,497.2 216.5,497.2 217,497.2 217.5,497.2 218,497.2 218.5,497.2 219,497.2" fill="none" stroke="#22c6d0" stroke-width="1.3" stroke-linejoin="round" stroke-linecap="round"/>
<polyline points="135,492.5 135.5,492.5 136,492.6 136.5,492.6 137,492.6 137.5,492.7 138,492.7 138.5,492.8 139,492.8 139.5,492.8 140,492.9 140.5,492.9 141,492.9 141.5,492.9 142,492.8 142.5,492.7 143,492.6 143.5,492.4 144,492.1 144.5,491.8 145,491.3 145.5,490.7 146,489.9 146.5,488.9 147,487.8 147.5,486.4 148,484.8 148.5,482.9 149,480.8 149.5,478.5 150,476 150.5,473.4 151,470.7 151.5,467.9 152,465.3 152.5,462.8 153,460.5 153.5,458.5 154,456.9 154.5,455.8 155,455.2 155.5,455.1 156,455.5 156.5,456.6 157,458.1 157.5,460.2 158,462.6 158.5,465.3 159,468.1 159.5,471.1 160,474.1 160.5,477 161,479.7 161.5,482.2 162,484.5 162.5,486.6 163,488.4 163.5,489.9 164,491.2 164.5,492.2 165,493.1 165.5,493.8 166,494.4 166.5,494.8 167,495.1 167.5,495.4 168,495.6 168.5,495.8 169,495.9 169.5,496 170,496.1 170.5,496.1 171,496.2 171.5,496.3 172,496.3 172.5,496.4 173,496.4 173.5,496.5 174,496.5 174.5,496.6 175,496.6 175.5,496.6 176,496.6 176.5,496.6 177,496.7 177.5,496.7 178,496.7 178.5,496.7 179,496.7 179.5,496.7 180,496.8 180.5,496.8 181,496.8 181.5,496.8 182,496.8 182.5,496.8 183,496.9 183.5,496.9 184,496.9 184.5,496.9 185,496.9" fill="none" stroke="#d9a520" stroke-width="1.3" stroke-linejoin="round" stroke-linecap="round"/>
<polyline points="30.5,486.6 36,486.8 43.7,486.4 47,485.9 51.6,486.4 55.5,487.2 59.6,486.6 62,486.2 64.2,485.5 66.4,484.6 68.7,482.5 70,480.3 72.1,476.8 73.7,472.8 75.5,468 77.3,463.7 79,460.2 81,456.4 82.8,452.6 84.6,449.2 86,446.5 87.4,444.5 89.2,442.2 91,443.9 92.4,447.5 93.7,452 95,457.5 96.5,463.7 97.8,469.5 99.2,474.7 100.5,478.8 101.9,482 103.3,483.8 104.7,484.7 108.3,485.2 112,485.6 114.5,485 117.4,483.8 120.9,482.9 122.9,481.5 126.4,477.4 128.4,474.4 130,471.5 131.9,468.3 134.6,461.5 137.3,453.7 139.2,448 141,442.8 142.4,438.3 143.7,435 145,434.8 146.4,435.6 147.8,436.8 149.2,437.2 150.5,436.3 151.9,435.8 153.3,435.3 154.6,435.4 155.8,436 157,437.6 158.1,440.3 159.2,444.6 160.5,452 161.9,461 163.3,470.5 164.7,479.2 166.5,486 168.3,490.2 171,492.2 173.8,493 178,494 182.9,494.7 190,495.4 200,496 210,496.4 219,496.6" fill="none" stroke="#8f9a1e" stroke-width="1.7" stroke-linejoin="round" stroke-linecap="round"/>
<polyline points="30.5,487.6 31.4,487.7 32.3,487.7 33.2,486.5 34.1,487.5 35,486.3 35.9,486.4 36.8,486.5 37.7,487.8 38.6,487.6 39.5,486 40.4,486.2 41.3,486.2 42.2,486.1 43.1,486.2 44,486.1 44.9,485.5 45.8,486.2 46.7,486.7 47.6,486.1 48.5,486.9 49.4,486.3 50.3,485.5 51.2,487 52.1,487.4 53,486.2 53.9,485.7 54.8,487.1 55.7,487.3 56.6,487.2 57.5,488 58.4,487.1 59.3,487.4 60.2,485.5 61.1,486.5 62,486.9 62.9,484.9 63.8,484.6 64.7,485.9 65.6,485.9 66.5,483.5 67.4,484 68.3,482 69.2,482.2 70.1,480.5 71,478 71.9,476.5 72.8,475.7 73.7,472.9 74.6,471 75.5,467.7 76.4,465.5 77.3,464.8 78.2,462.3 79.1,460 80,458.4 80.9,457.1 81.8,455.2 82.7,453.8 83.6,450.9 84.5,450.2 85.4,448.1 86.3,446.9 87.2,445.5 88.1,444.4 89,443.4 89.9,444 90.8,444 91.7,445.8 92.6,448.7 93.5,452 94.4,454.8 95.3,458.5 96.2,461.6 97.1,467 98,471.4 98.9,473.3 99.8,475.8 100.7,478.5 101.6,481.1 102.5,482.3 103.4,485 104.3,483.4 105.2,484.3 106.1,484 107,485.4 107.9,485.8 108.8,484.5 109.7,484.3 110.6,485.3 111.5,485.7 112.4,486.5 113.3,484.2 114.2,484.1 115.1,484 116,483.7 116.9,483.4 117.8,484.2 118.7,483.7 119.6,482.6 120.5,482.2 121.4,482 122.3,481.1 123.2,481.8 124.1,479.6 125,479.2 125.9,478.7 126.8,476.8 127.7,474.9 128.6,475 129.5,473.4 130.4,470.4 131.3,469.4 132.2,468.6 133.1,465.2 134,462.3 134.9,459.6 135.8,459.1 136.7,456.2 137.6,452.5 138.5,450.2 139.4,447.5 140.3,444.3 141.2,443.3 142.1,439.6 143,436.1 143.9,433.8 144.8,434.8 145.7,434.9 146.6,436.5 147.5,437.1 148.4,437.2 149.3,436.3 150.2,435.7 151.1,435.7 152,435.2 152.9,436.3 153.8,435.4 154.7,435.8 155.6,437.1 156.5,436.4 157.4,438.7 158.3,440.2 159.2,445.2 160.1,448.5 161,456 161.9,461.8 162.8,467.9 163.7,472 164.6,478 165.5,482.7 166.4,484.7 167.3,487.8 168.2,489.9 169.1,491.9 170,491.7 170.9,493 171.8,492 172.7,493.4 173.6,492.7 174.5,494.2 175.4,492.4 176.3,494.4 177.2,493.1 178.1,494.1 179,494.2 179.9,493.4 180.8,495.2 181.7,494.1 182.6,494.2 183.5,493.7 184.4,494.4 185.3,494.9 186.2,495.5 187.1,494.8 188,495.7 188.9,494.3 189.8,495.1 190.7,495.4 191.6,496.6 192.5,496.3 193.4,496 194.3,494.5 195.2,495.4 196.1,496.3 197,495.2 197.9,496 198.8,495.8 199.7,494.8 200.6,497.2 201.5,496.8 202.4,495.4 203.3,496.4 204.2,495.7 205.1,495.9 206,496.3 206.9,495.8 207.8,495.9 208.7,496.1 209.6,496.8 210.5,495.8 211.4,495.7 212.3,497 213.2,496.1 214.1,497.6 215,496.7 215.9,497.1 216.8,496.1 217.7,497.4 218.6,495.6" fill="none" stroke="#505030" stroke-width="0.6" stroke-linejoin="round" stroke-linecap="round"/>
<text x="81.8" y="438.4" font-size="7.2" font-weight="bold" fill="#000" stroke="#000" stroke-width="0.22">SO<tspan font-size="5" dy="1.6">X</tspan></text>
<text x="151" y="430.6" font-size="7.2" font-weight="bold" text-anchor="middle" fill="#000" stroke="#000" stroke-width="0.22">Sulfide</text>
<text x="148.8" y="453.9" font-size="7.2" font-weight="bold" text-anchor="middle" fill="#000" stroke="#000" stroke-width="0.22">Ni-S</text>
<text x="232.5" y="376.6" font-size="9.2" font-weight="bold" text-anchor="start" fill="#000" stroke="#000" stroke-width="0.45">(e)</text>
<line x1="252.8" y1="384.5" x2="435" y2="384.5" stroke="#dcdcdc" stroke-width="1.0"/>
<line x1="435" y1="384.5" x2="435" y2="528.5" stroke="#dcdcdc" stroke-width="1.0"/>
<line x1="252.8" y1="384.5" x2="252.8" y2="528.5" stroke="#6e6e6e" stroke-width="1.0"/>
<line x1="252.8" y1="528.5" x2="435" y2="528.5" stroke="#6e6e6e" stroke-width="1.0"/>
<line x1="252.8" y1="528.5" x2="254.8" y2="528.5" stroke="#6e6e6e" stroke-width="0.8"/>
<text x="251" y="530.5" font-size="5.5" font-weight="bold" text-anchor="end" fill="#1a1a1a" stroke="#1a1a1a" stroke-width="0.16">2 × 10<tspan font-size="3.6" dy="-2">4</tspan></text>
<line x1="252.8" y1="510.5" x2="254.8" y2="510.5" stroke="#6e6e6e" stroke-width="0.8"/>
<text x="251" y="512.5" font-size="5.5" font-weight="bold" text-anchor="end" fill="#1a1a1a" stroke="#1a1a1a" stroke-width="0.16">3 × 10<tspan font-size="3.6" dy="-2">4</tspan></text>
<line x1="252.8" y1="492.5" x2="254.8" y2="492.5" stroke="#6e6e6e" stroke-width="0.8"/>
<text x="251" y="494.5" font-size="5.5" font-weight="bold" text-anchor="end" fill="#1a1a1a" stroke="#1a1a1a" stroke-width="0.16">4 × 10<tspan font-size="3.6" dy="-2">4</tspan></text>
<line x1="252.8" y1="474.5" x2="254.8" y2="474.5" stroke="#6e6e6e" stroke-width="0.8"/>
<text x="251" y="476.5" font-size="5.5" font-weight="bold" text-anchor="end" fill="#1a1a1a" stroke="#1a1a1a" stroke-width="0.16">5 × 10<tspan font-size="3.6" dy="-2">4</tspan></text>
<line x1="252.8" y1="456.5" x2="254.8" y2="456.5" stroke="#6e6e6e" stroke-width="0.8"/>
<text x="251" y="458.5" font-size="5.5" font-weight="bold" text-anchor="end" fill="#1a1a1a" stroke="#1a1a1a" stroke-width="0.16">6 × 10<tspan font-size="3.6" dy="-2">4</tspan></text>
<line x1="252.8" y1="438.5" x2="254.8" y2="438.5" stroke="#6e6e6e" stroke-width="0.8"/>
<text x="251" y="440.5" font-size="5.5" font-weight="bold" text-anchor="end" fill="#1a1a1a" stroke="#1a1a1a" stroke-width="0.16">7 × 10<tspan font-size="3.6" dy="-2">4</tspan></text>
<line x1="252.8" y1="420.5" x2="254.8" y2="420.5" stroke="#6e6e6e" stroke-width="0.8"/>
<text x="251" y="422.5" font-size="5.5" font-weight="bold" text-anchor="end" fill="#1a1a1a" stroke="#1a1a1a" stroke-width="0.16">8 × 10<tspan font-size="3.6" dy="-2">4</tspan></text>
<line x1="252.8" y1="402.5" x2="254.8" y2="402.5" stroke="#6e6e6e" stroke-width="0.8"/>
<text x="251" y="404.5" font-size="5.5" font-weight="bold" text-anchor="end" fill="#1a1a1a" stroke="#1a1a1a" stroke-width="0.16">9 × 10<tspan font-size="3.6" dy="-2">4</tspan></text>
<line x1="252.8" y1="384.5" x2="254.8" y2="384.5" stroke="#6e6e6e" stroke-width="0.8"/>
<text x="251" y="386.5" font-size="5.5" font-weight="bold" text-anchor="end" fill="#1a1a1a" stroke="#1a1a1a" stroke-width="0.16">1 × 10<tspan font-size="3.6" dy="-2">5</tspan></text>
<line x1="252.8" y1="528.5" x2="252.8" y2="526.5" stroke="#6e6e6e" stroke-width="0.8"/>
<text x="252.8" y="536.8" font-size="5.85" font-weight="bold" text-anchor="middle" fill="#1a1a1a" stroke="#1a1a1a" stroke-width="0.16">540</text>
<line x1="277.1" y1="528.5" x2="277.1" y2="526.5" stroke="#6e6e6e" stroke-width="0.8"/>
<text x="277.1" y="536.8" font-size="5.85" font-weight="bold" text-anchor="middle" fill="#1a1a1a" stroke="#1a1a1a" stroke-width="0.16">538</text>
<line x1="301.3" y1="528.5" x2="301.3" y2="526.5" stroke="#6e6e6e" stroke-width="0.8"/>
<text x="301.3" y="536.8" font-size="5.85" font-weight="bold" text-anchor="middle" fill="#1a1a1a" stroke="#1a1a1a" stroke-width="0.16">536</text>
<line x1="325.6" y1="528.5" x2="325.6" y2="526.5" stroke="#6e6e6e" stroke-width="0.8"/>
<text x="325.6" y="536.8" font-size="5.85" font-weight="bold" text-anchor="middle" fill="#1a1a1a" stroke="#1a1a1a" stroke-width="0.16">534</text>
<line x1="349.9" y1="528.5" x2="349.9" y2="526.5" stroke="#6e6e6e" stroke-width="0.8"/>
<text x="349.9" y="536.8" font-size="5.85" font-weight="bold" text-anchor="middle" fill="#1a1a1a" stroke="#1a1a1a" stroke-width="0.16">532</text>
<line x1="374.1" y1="528.5" x2="374.1" y2="526.5" stroke="#6e6e6e" stroke-width="0.8"/>
<text x="374.1" y="536.8" font-size="5.85" font-weight="bold" text-anchor="middle" fill="#1a1a1a" stroke="#1a1a1a" stroke-width="0.16">530</text>
<line x1="398.4" y1="528.5" x2="398.4" y2="526.5" stroke="#6e6e6e" stroke-width="0.8"/>
<text x="398.4" y="536.8" font-size="5.85" font-weight="bold" text-anchor="middle" fill="#1a1a1a" stroke="#1a1a1a" stroke-width="0.16">528</text>
<line x1="422.7" y1="528.5" x2="422.7" y2="526.5" stroke="#6e6e6e" stroke-width="0.8"/>
<text x="422.7" y="536.8" font-size="5.85" font-weight="bold" text-anchor="middle" fill="#1a1a1a" stroke="#1a1a1a" stroke-width="0.16">526</text>
<text x="341.8" y="545.9" font-size="6.6" font-weight="bold" text-anchor="middle" fill="#000" stroke="#000" stroke-width="0.22">Binding energy (eV)</text>
<text x="0" y="0" font-size="7.0" font-weight="bold" text-anchor="middle" fill="#000" stroke="#000" stroke-width="0.22" transform="translate(233.0 452.8) rotate(-90)">C/S</text>
<text x="265.3" y="396.8" font-size="9" font-weight="bold" text-anchor="start" fill="#000" stroke="#000" stroke-width="0.22">O1s</text>
<polyline points="253,517.1 253.5,517.1 254,517.1 254.5,517.1 255,517.1 255.5,517.1 256,517.1 256.5,517.1 257,517.1 257.5,517.1 258,517.1 258.5,517.1 259,517.1 259.5,517.1 260,517.1 260.5,517.1 261,517.1 261.5,517.1 262,517.1 262.5,517.1 263,517.1 263.5,517.1 264,517.1 264.5,517.1 265,517.1 265.5,517.1 266,517.1 266.5,517.1 267,517.1 267.5,517.1 268,517.1 268.5,517.1 269,517.1 269.5,517.1 270,517.1 270.5,517.1 271,517.1 271.5,517.1 272,517.1 272.5,517.1 273,517.1 273.5,517.1 274,517.1 274.5,517.1 275,517.1 275.5,517.1 276,517.1 276.5,517.1 277,517.1 277.5,517.1 278,517.1 278.5,517.1 279,517.1 279.5,517.1 280,517.1 280.5,517.1 281,517.1 281.5,517.1 282,517.1 282.5,517.1 283,517.1 283.5,517.1 284,517.1 284.5,517.1 285,517.1 285.5,517.1 286,517.1 286.5,517.1 287,517.1 287.5,517.1 288,517.1 288.5,517.1 289,517.1 289.5,517.1 290,517.1 290.5,517.1 291,517.1 291.5,517.1 292,517.1 292.5,517.1 293,517.1 293.5,517.1 294,517.1 294.5,517.1 295,517.1 295.5,517.1 296,517.1 296.5,517.1 297,517.1 297.5,517.1 298,517.1 298.5,517.1 299,517.1 299.5,517.1 300,517.1 300.5,517.1 301,517.1 301.5,517.1 302,517.1 302.5,517.1 303,517.1 303.5,517.1 304,517.1 304.5,517.1 305,517.1 305.5,517.1 306,517.1 306.5,517.1 307,517.2 307.5,517.2 308,517.2 308.5,517.2 309,517.2 309.5,517.2 310,517.2 310.5,517.2 311,517.2 311.5,517.2 312,517.2 312.5,517.2 313,517.2 313.5,517.2 314,517.2 314.5,517.2 315,517.2 315.5,517.2 316,517.2 316.5,517.2 317,517.3 317.5,517.3 318,517.3 318.5,517.3 319,517.3 319.5,517.3 320,517.3 320.5,517.3 321,517.3 321.5,517.3 322,517.4 322.5,517.4 323,517.4 323.5,517.4 324,517.4 324.5,517.4 325,517.5 325.5,517.5 326,517.5 326.5,517.5 327,517.5 327.5,517.6 328,517.6 328.5,517.6 329,517.6 329.5,517.7 330,517.7 330.5,517.7 331,517.8 331.5,517.8 332,517.8 332.5,517.9 333,517.9 333.5,517.9 334,518 334.5,518 335,518.1 335.5,518.1 336,518.1 336.5,518.2 337,518.2 337.5,518.3 338,518.3 338.5,518.4 339,518.4 339.5,518.5 340,518.6 340.5,518.6 341,518.7 341.5,518.7 342,518.8 342.5,518.9 343,518.9 343.5,519 344,519.1 344.5,519.1 345,519.2 345.5,519.3 346,519.3 346.5,519.4 347,519.5 347.5,519.5 348,519.6 348.5,519.7 349,519.7 349.5,519.8 350,519.9 350.5,519.9 351,520 351.5,520.1 352,520.1 352.5,520.2 353,520.3 353.5,520.3 354,520.4 354.5,520.5 355,520.5 355.5,520.6 356,520.6 356.5,520.7 357,520.8 357.5,520.8 358,520.9 358.5,520.9 359,521 359.5,521 360,521.1 360.5,521.1 361,521.1 361.5,521.2 362,521.2 362.5,521.3 363,521.3 363.5,521.3 364,521.4 364.5,521.4 365,521.4 365.5,521.5 366,521.5 366.5,521.5 367,521.6 367.5,521.6 368,521.6 368.5,521.6 369,521.7 369.5,521.7 370,521.7 370.5,521.7 371,521.7 371.5,521.8 372,521.8 372.5,521.8 373,521.8 373.5,521.8 374,521.8 374.5,521.9 375,521.9 375.5,521.9 376,521.9 376.5,521.9 377,521.9 377.5,521.9 378,521.9 378.5,521.9 379,521.9 379.5,522 380,522 380.5,522 381,522 381.5,522 382,522 382.5,522 383,522 383.5,522 384,522 384.5,522 385,522 385.5,522 386,522 386.5,522 387,522 387.5,522 388,522 388.5,522 389,522 389.5,522.1 390,522.1 390.5,522.1 391,522.1 391.5,522.1 392,522.1 392.5,522.1 393,522.1 393.5,522.1 394,522.1 394.5,522.1 395,522.1 395.5,522.1 396,522.1 396.5,522.1 397,522.1 397.5,522.1 398,522.1 398.5,522.1 399,522.1 399.5,522.1 400,522.1 400.5,522.1 401,522.1 401.5,522.1 402,522.1 402.5,522.1 403,522.1 403.5,522.1 404,522.1 404.5,522.1 405,522.1 405.5,522.1 406,522.1 406.5,522.1 407,522.1 407.5,522.1 408,522.1 408.5,522.1 409,522.1 409.5,522.1 410,522.1 410.5,522.1 411,522.1 411.5,522.1 412,522.1 412.5,522.1 413,522.1 413.5,522.1 414,522.1 414.5,522.1 415,522.1 415.5,522.1 416,522.1 416.5,522.1 417,522.1 417.5,522.1 418,522.1 418.5,522.1 419,522.1 419.5,522.1 420,522.1 420.5,522.1 421,522.1 421.5,522.1 422,522.1 422.5,522.1 423,522.1 423.5,522.1 424,522.1 424.5,522.1 425,522.1 425.5,522.1 426,522.1 426.5,522.1 427,522.1 427.5,522.1 428,522.1 428.5,522.1 429,522.1 429.5,522.1 430,522.1 430.5,522.1 431,522.1 431.5,522.1 432,522.1 432.5,522.1 433,522.1 433.5,522.1 434,522.1 434.5,522.1" fill="none" stroke="#a070e0" stroke-width="1.3" stroke-linejoin="round" stroke-linecap="round"/>
<polyline points="253,516.3 254,516.2 255,517.1 256,517.2 257,516.3 258,516.6 259,517.3 260,516.9 261,516.1 262,516.3 263,516.1 264,516 265,516.5 266,515.9 267,517.2 268,516.4 269,516.5 270,516.7 271,516.9 272,517 273,516.2 274,516.1 275,516.2 276,515.5 277,516.1 278,516.6 279,517 280,516.7 281,516.4 282,516.3 283,515.3 284,515.8 285,515.8 286,516.3 287,515.4 288,515.8 289,515.9 290,516.4 291,516.4 292,516 293,515.2 294,516.1 295,516.2 296,515.6 297,515.2 298,515.4 299,514.8 300,515.6 301,516 302,515.2 303,515.4 304,515.5 305,514.4 306,515.5 307,514.8 308,514 309,513.7 310,513.9 311,514.2 312,514 313,513.1 314,513.6 315,512.1 316,511.7 317,510.4 318,510.8 319,508.5 320,508.7 321,507 322,505.8 323,504.6 324,502.9 325,501 326,499 327,496.9 328,494.5 329,492.2 330,489.8 331,487.3 332,484.8 333,482 334,479 335,476.1 336,473.1 337,470 338,466.7 339,463 340,459 341,454.2 342,448.6 343,442.8 344,437.1 345,431.6 346,426.7 347,421.7 348,417 349,412.6 350,409.4 351,407.1 352,405.7 353,405.3 354,405.5 355,406 356,407.3 357,409.5 358,412 359,414.8 360,418.1 361,421.3 362,424.5 363,427.6 364,430.8 365,434.5 366,438.3 367,442 368,445.8 369,450.1 370,454.4 371,459 372,463.2 373,467.2 374,471.4 375,476.1 376,480.7 377,485 378,489.1 379,493 380,496.7 381,500.3 382,503.5 383,506.5 384,509.2 385,511.7 386,514 387,516.1 388,517.6 389,518.9 390,519.6 391,520.3 392,520.4 393,521.1 394,520.5 395,520.8 396,521.4 397,521.5 398,521.4 399,520.9 400,522 401,521.8 402,521.3 403,521.5 404,521.6 405,521.4 406,521.1 407,522.5 408,522.6 409,522.1 410,522.5 411,521.8 412,522.4 413,521.4 414,522.3 415,522 416,522.5 417,521.2 418,522.3 419,521.2 420,521.9 421,522.5 422,521 423,521.4 424,521.5 425,521.6 426,521.2 427,522.5 428,522.4 429,521.8 430,521.7 431,522.1 432,521.2 433,521.2 434,522.6" fill="none" stroke="#3a3a3a" stroke-width="1.2" stroke-linejoin="round" stroke-linecap="round"/>
<polyline points="285,516.9 285.5,516.9 286,516.9 286.5,516.9 287,516.9 287.5,516.9 288,516.9 288.5,516.9 289,516.8 289.5,516.8 290,516.8 290.5,516.8 291,516.8 291.5,516.8 292,516.8 292.5,516.8 293,516.8 293.5,516.8 294,516.8 294.5,516.8 295,516.8 295.5,516.8 296,516.8 296.5,516.8 297,516.7 297.5,516.7 298,516.7 298.5,516.7 299,516.7 299.5,516.7 300,516.7 300.5,516.7 301,516.7 301.5,516.7 302,516.7 302.5,516.6 303,516.6 303.5,516.6 304,516.6 304.5,516.6 305,516.6 305.5,516.6 306,516.5 306.5,516.5 307,516.5 307.5,516.5 308,516.5 308.5,516.4 309,516.4 309.5,516.4 310,516.3 310.5,516.3 311,516.3 311.5,516.2 312,516.2 312.5,516.1 313,516.1 313.5,516 314,515.9 314.5,515.8 315,515.7 315.5,515.6 316,515.5 316.5,515.3 317,515.2 317.5,515 318,514.8 318.5,514.6 319,514.3 319.5,514 320,513.7 320.5,513.4 321,513 321.5,512.6 322,512.1 322.5,511.7 323,511.1 323.5,510.5 324,509.9 324.5,509.3 325,508.6 325.5,507.9 326,507.1 326.5,506.3 327,505.5 327.5,504.6 328,503.7 328.5,502.8 329,501.9 329.5,501 330,500.1 330.5,499.2 331,498.4 331.5,497.5 332,496.8 332.5,496 333,495.4 333.5,494.8 334,494.3 334.5,493.9 335,493.6 335.5,493.5 336,493.4 336.5,493.5 337,493.7 337.5,494.1 338,494.5 338.5,495 339,495.7 339.5,496.4 340,497.2 340.5,498 341,498.9 341.5,499.9 342,500.8 342.5,501.8 343,502.8 343.5,503.8 344,504.8 344.5,505.8 345,506.8 345.5,507.7 346,508.6 346.5,509.5 347,510.3 347.5,511.1 348,511.8 348.5,512.6 349,513.2 349.5,513.9 350,514.5 350.5,515 351,515.5 351.5,516 352,516.4 352.5,516.8 353,517.2 353.5,517.5 354,517.8 354.5,518.1 355,518.4 355.5,518.6 356,518.8 356.5,519 357,519.2 357.5,519.4 358,519.5 358.5,519.7 359,519.8 359.5,519.9 360,520 360.5,520.1 361,520.2 361.5,520.3 362,520.4 362.5,520.5 363,520.5 363.5,520.6 364,520.7 364.5,520.7 365,520.8 365.5,520.8 366,520.9 366.5,520.9 367,521 367.5,521 368,521.1 368.5,521.1 369,521.1 369.5,521.2 370,521.2 370.5,521.3 371,521.3 371.5,521.3 372,521.3 372.5,521.4 373,521.4 373.5,521.4 374,521.4 374.5,521.5 375,521.5 375.5,521.5 376,521.5 376.5,521.6 377,521.6 377.5,521.6 378,521.6 378.5,521.6 379,521.6 379.5,521.7 380,521.7 380.5,521.7 381,521.7 381.5,521.7 382,521.7 382.5,521.7 383,521.7 383.5,521.8 384,521.8 384.5,521.8 385,521.8 385.5,521.8 386,521.8 386.5,521.8 387,521.8 387.5,521.8 388,521.8 388.5,521.8 389,521.8 389.5,521.8 390,521.9 390.5,521.9 391,521.9 391.5,521.9 392,521.9 392.5,521.9 393,521.9 393.5,521.9 394,521.9 394.5,521.9 395,521.9 395.5,521.9 396,521.9 396.5,521.9 397,521.9 397.5,521.9 398,521.9 398.5,521.9 399,521.9 399.5,521.9 400,521.9 400.5,521.9 401,521.9 401.5,522 402,522 402.5,522 403,522 403.5,522 404,522 404.5,522 405,522 405.5,522 406,522 406.5,522 407,522 407.5,522 408,522 408.5,522 409,522 409.5,522 410,522 410.5,522 411,522 411.5,522 412,522 412.5,522 413,522 413.5,522 414,522 414.5,522 415,522 415.5,522 416,522 416.5,522 417,522 417.5,522 418,522 418.5,522 419,522 419.5,522 420,522 420.5,522 421,522 421.5,522 422,522 422.5,522 423,522 423.5,522 424,522 424.5,522 425,522 425.5,522 426,522 426.5,522 427,522 427.5,522 428,522 428.5,522 429,522 429.5,522 430,522 430.5,522 431,522 431.5,522 432,522 432.5,522 433,522 433.5,522 434,522 434.5,522" fill="none" stroke="#2ea85e" stroke-width="1.3" stroke-linejoin="round" stroke-linecap="round"/>
<polyline points="310,517.2 310.5,517.2 311,517.2 311.5,517.2 312,517.2 312.5,517.2 313,517.2 313.5,517.2 314,517.2 314.5,517.2 315,517.2 315.5,517.2 316,517.2 316.5,517.2 317,517.2 317.5,517.2 318,517.2 318.5,517.2 319,517.2 319.5,517.2 320,517.2 320.5,517.2 321,517.2 321.5,517.2 322,517.2 322.5,517.1 323,517.1 323.5,517.1 324,517 324.5,516.9 325,516.8 325.5,516.7 326,516.6 326.5,516.4 327,516.3 327.5,516 328,515.8 328.5,515.5 329,515.1 329.5,514.7 330,514.3 330.5,513.7 331,513.1 331.5,512.4 332,511.7 332.5,510.8 333,509.8 333.5,508.8 334,507.6 334.5,506.2 335,504.8 335.5,503.2 336,501.5 336.5,499.6 337,497.6 337.5,495.4 338,493.1 338.5,490.7 339,488.1 339.5,485.4 340,482.5 340.5,479.6 341,476.5 341.5,473.4 342,470.1 342.5,466.9 343,463.6 343.5,460.3 344,457 344.5,453.7 345,450.5 345.5,447.4 346,444.5 346.5,441.6 347,439 347.5,436.5 348,434.3 348.5,432.3 349,430.6 349.5,429.2 350,428.1 350.5,427.2 351,426.8 351.5,426.6 352,426.7 352.5,427.2 353,427.9 353.5,428.9 354,430.2 354.5,431.8 355,433.6 355.5,435.6 356,437.9 356.5,440.3 357,443 357.5,445.8 358,448.7 358.5,451.7 359,454.8 359.5,458 360,461.2 360.5,464.4 361,467.6 361.5,470.8 362,474 362.5,477.1 363,480.1 363.5,483.1 364,486 364.5,488.7 365,491.3 365.5,493.9 366,496.2 366.5,498.5 367,500.6 367.5,502.6 368,504.5 368.5,506.2 369,507.8 369.5,509.3 370,510.7 370.5,511.9 371,513 371.5,514.1 372,515 372.5,515.9 373,516.6 373.5,517.3 374,517.9 374.5,518.4 375,518.9 375.5,519.3 376,519.7 376.5,520 377,520.3 377.5,520.6 378,520.8 378.5,521 379,521.1 379.5,521.3 380,521.4 380.5,521.5 381,521.6 381.5,521.7 382,521.7 382.5,521.8 383,521.8 383.5,521.9 384,521.9 384.5,521.9 385,521.9 385.5,522 386,522 386.5,522 387,522 387.5,522 388,522 388.5,522 389,522 389.5,522 390,522 390.5,522 391,522.1 391.5,522.1 392,522.1 392.5,522.1 393,522.1 393.5,522.1 394,522.1 394.5,522.1 395,522.1 395.5,522.1 396,522.1 396.5,522.1 397,522.1 397.5,522.1 398,522.1 398.5,522.1 399,522.1 399.5,522.1 400,522.1" fill="none" stroke="#e34850" stroke-width="1.3" stroke-linejoin="round" stroke-linecap="round"/>
<polyline points="335,518 335.5,518.1 336,518.1 336.5,518.1 337,518.2 337.5,518.2 338,518.2 338.5,518.2 339,518.3 339.5,518.3 340,518.3 340.5,518.3 341,518.3 341.5,518.3 342,518.2 342.5,518.2 343,518.1 343.5,518 344,517.9 344.5,517.8 345,517.6 345.5,517.4 346,517.2 346.5,516.9 347,516.6 347.5,516.2 348,515.8 348.5,515.3 349,514.8 349.5,514.2 350,513.5 350.5,512.7 351,511.9 351.5,510.9 352,509.9 352.5,508.8 353,507.6 353.5,506.3 354,505 354.5,503.5 355,501.9 355.5,500.3 356,498.6 356.5,496.8 357,494.9 357.5,493 358,491 358.5,489 359,487 359.5,484.9 360,482.9 360.5,480.8 361,478.9 361.5,476.9 362,475 362.5,473.2 363,471.5 363.5,469.9 364,468.5 364.5,467.1 365,466 365.5,465 366,464.2 366.5,463.5 367,463.1 367.5,462.9 368,462.8 368.5,463 369,463.3 369.5,463.7 370,464.4 370.5,465.2 371,466.1 371.5,467.2 372,468.4 372.5,469.8 373,471.2 373.5,472.8 374,474.4 374.5,476.1 375,477.9 375.5,479.8 376,481.6 376.5,483.6 377,485.5 377.5,487.4 378,489.3 378.5,491.2 379,493.1 379.5,494.9 380,496.7 380.5,498.5 381,500.2 381.5,501.8 382,503.4 382.5,504.8 383,506.3 383.5,507.6 384,508.9 384.5,510.1 385,511.2 385.5,512.2 386,513.2 386.5,514.1 387,514.9 387.5,515.7 388,516.4 388.5,517 389,517.6 389.5,518.1 390,518.6 390.5,519 391,519.4 391.5,519.7 392,520 392.5,520.3 393,520.5 393.5,520.7 394,520.9 394.5,521.1 395,521.2 395.5,521.4 396,521.5 396.5,521.6 397,521.6 397.5,521.7 398,521.8 398.5,521.8 399,521.9 399.5,521.9 400,521.9 400.5,522 401,522 401.5,522 402,522 402.5,522 403,522 403.5,522.1 404,522.1 404.5,522.1 405,522.1 405.5,522.1 406,522.1 406.5,522.1 407,522.1 407.5,522.1 408,522.1 408.5,522.1 409,522.1 409.5,522.1 410,522.1 410.5,522.1 411,522.1 411.5,522.1 412,522.1 412.5,522.1 413,522.1 413.5,522.1 414,522.1 414.5,522.1 415,522.1 415.5,522.1 416,522.1 416.5,522.1 417,522.1 417.5,522.1 418,522.1 418.5,522.1 419,522.1 419.5,522.1 420,522.1 420.5,522.1 421,522.1 421.5,522.1 422,522.1 422.5,522.1 423,522.1 423.5,522.1 424,522.1 424.5,522.1 425,522.1 425.5,522.1 426,522.1 426.5,522.1 427,522.1 427.5,522.1 428,522.1 428.5,522.1 429,522.1 429.5,522.1 430,522.1 430.5,522.1 431,522.1 431.5,522.1 432,522.1 432.5,522.1 433,522.1 433.5,522.1 434,522.1 434.5,522.1" fill="none" stroke="#2266d6" stroke-width="1.4" stroke-linejoin="round" stroke-linecap="round"/>
<text x="340.1" y="408.9" font-size="7.0" font-weight="bold" text-anchor="middle" fill="#000" stroke="#000" stroke-width="0.22">S-O</text>
<text x="402.5" y="471.3" font-size="7.1" font-weight="bold" text-anchor="middle" fill="#000" stroke="#000" stroke-width="0.22">Metallic oxide</text>
</svg>
</body></html>
